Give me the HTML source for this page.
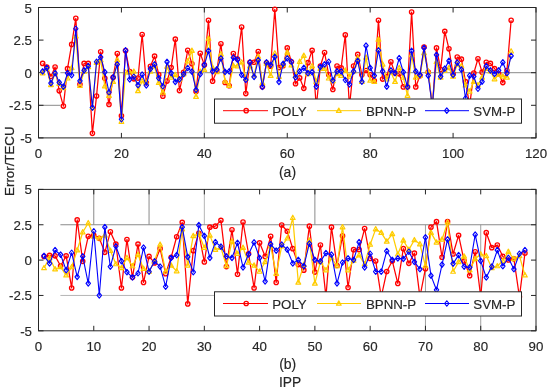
<!DOCTYPE html>
<html><head><meta charset="utf-8"><title>Error/TECU</title>
<style>html,body{margin:0;padding:0;background:#fff;}svg{display:block;}</style>
</head><body>
<svg width="550" height="391" viewBox="0 0 550 391" font-family="'Liberation Sans', Arial, Helvetica, sans-serif">
<rect width="550" height="391" fill="#ffffff"/>
<line x1="60.4" y1="72.7" x2="536" y2="72.7" stroke="#8a8a8a" stroke-width="1" />
<line x1="38.5" y1="105.3" x2="60.4" y2="105.3" stroke="#8a8a8a" stroke-width="1" />
<line x1="204.33" y1="7.5" x2="204.33" y2="137.9" stroke="#bdbdbd" stroke-width="1" />
<rect x="38.5" y="7.5" width="497.5" height="130.4" fill="none" stroke="#262626" stroke-width="1"/>
<line x1="38.5" y1="137.9" x2="38.5" y2="132.9" stroke="#262626" stroke-width="1" />
<line x1="38.5" y1="7.5" x2="38.5" y2="12.5" stroke="#262626" stroke-width="1" />
<line x1="121.42" y1="137.9" x2="121.42" y2="132.9" stroke="#262626" stroke-width="1" />
<line x1="121.42" y1="7.5" x2="121.42" y2="12.5" stroke="#262626" stroke-width="1" />
<line x1="204.33" y1="137.9" x2="204.33" y2="132.9" stroke="#262626" stroke-width="1" />
<line x1="204.33" y1="7.5" x2="204.33" y2="12.5" stroke="#262626" stroke-width="1" />
<line x1="287.25" y1="137.9" x2="287.25" y2="132.9" stroke="#262626" stroke-width="1" />
<line x1="287.25" y1="7.5" x2="287.25" y2="12.5" stroke="#262626" stroke-width="1" />
<line x1="370.17" y1="137.9" x2="370.17" y2="132.9" stroke="#262626" stroke-width="1" />
<line x1="370.17" y1="7.5" x2="370.17" y2="12.5" stroke="#262626" stroke-width="1" />
<line x1="453.08" y1="137.9" x2="453.08" y2="132.9" stroke="#262626" stroke-width="1" />
<line x1="453.08" y1="7.5" x2="453.08" y2="12.5" stroke="#262626" stroke-width="1" />
<line x1="536" y1="137.9" x2="536" y2="132.9" stroke="#262626" stroke-width="1" />
<line x1="536" y1="7.5" x2="536" y2="12.5" stroke="#262626" stroke-width="1" />
<line x1="38.5" y1="137.9" x2="43.5" y2="137.9" stroke="#262626" stroke-width="1" />
<line x1="536" y1="137.9" x2="531" y2="137.9" stroke="#262626" stroke-width="1" />
<line x1="38.5" y1="105.3" x2="43.5" y2="105.3" stroke="#262626" stroke-width="1" />
<line x1="536" y1="105.3" x2="531" y2="105.3" stroke="#262626" stroke-width="1" />
<line x1="38.5" y1="72.7" x2="43.5" y2="72.7" stroke="#262626" stroke-width="1" />
<line x1="536" y1="72.7" x2="531" y2="72.7" stroke="#262626" stroke-width="1" />
<line x1="38.5" y1="40.1" x2="43.5" y2="40.1" stroke="#262626" stroke-width="1" />
<line x1="536" y1="40.1" x2="531" y2="40.1" stroke="#262626" stroke-width="1" />
<line x1="38.5" y1="7.5" x2="43.5" y2="7.5" stroke="#262626" stroke-width="1" />
<line x1="536" y1="7.5" x2="531" y2="7.5" stroke="#262626" stroke-width="1" />
<polyline points="42.65,63.44 46.79,66.96 50.94,76.48 55.08,66.96 59.23,90.83 63.38,106.08 67.52,68.66 71.67,44.4 75.81,18.32 79.96,84.31 84.1,63.44 88.25,63.44 92.4,133.34 96.54,96.04 100.69,51.84 104.83,78.31 108.98,104.39 113.12,77.39 117.27,53.53 121.42,115.86 125.56,50.66 129.71,71.53 133.85,78.83 138,78.05 142.15,34.49 146.29,82.74 150.44,66.31 154.58,56.14 158.73,74.66 162.88,96.17 167.02,81.05 171.17,67.61 175.31,39.19 179.46,90.56 183.6,72.31 187.75,50.27 191.9,63.7 196.04,91.48 200.19,53.27 204.33,64.88 208.48,20.28 212.62,81.18 216.77,70.74 220.92,43.75 225.06,82.48 229.21,85.74 233.35,53.53 237.5,59.01 241.65,27.06 245.79,93.56 249.94,62.27 254.08,62.27 258.23,51.58 262.38,86.78 266.52,62.92 270.67,66.18 274.81,9.33 278.96,67.61 283.1,65.79 287.25,47.92 291.4,61.75 295.54,83.78 299.69,77.92 303.83,88.35 307.98,62.66 312.12,50.4 316.27,106.6 320.42,66.05 324.56,52.49 328.71,74.79 332.85,89.52 337,66.05 341.15,67.88 345.29,34.88 349.44,106.6 353.58,66.05 357.73,54.44 361.88,74.79 366.02,70.48 370.17,74.79 374.31,80.92 378.46,20.28 382.6,79.09 386.75,76.48 390.9,61.75 395.04,73.09 399.19,73.87 403.33,86.91 407.48,86.91 411.62,12.06 415.77,86.91 419.92,75.7 424.06,47.01 428.21,72.18 432.35,106.6 436.5,47.92 440.65,69.57 444.79,31.36 448.94,48.84 453.08,73.87 457.23,57.05 461.38,59.14 465.52,81.7 469.67,105.3 473.81,73.09 477.96,58.75 482.1,72.18 486.25,62.27 490.4,63.44 494.54,68.66 498.69,73.87 502.83,82.61 506.98,70.48 511.12,20.28" fill="none" stroke="#ff0000" stroke-width="1.25" stroke-linejoin="round"/>
<circle cx="42.65" cy="63.44" r="2.15" fill="none" stroke="#ff0000" stroke-width="1.35"/>
<circle cx="46.79" cy="66.96" r="2.15" fill="none" stroke="#ff0000" stroke-width="1.35"/>
<circle cx="50.94" cy="76.48" r="2.15" fill="none" stroke="#ff0000" stroke-width="1.35"/>
<circle cx="55.08" cy="66.96" r="2.15" fill="none" stroke="#ff0000" stroke-width="1.35"/>
<circle cx="59.23" cy="90.83" r="2.15" fill="none" stroke="#ff0000" stroke-width="1.35"/>
<circle cx="63.38" cy="106.08" r="2.15" fill="none" stroke="#ff0000" stroke-width="1.35"/>
<circle cx="67.52" cy="68.66" r="2.15" fill="none" stroke="#ff0000" stroke-width="1.35"/>
<circle cx="71.67" cy="44.4" r="2.15" fill="none" stroke="#ff0000" stroke-width="1.35"/>
<circle cx="75.81" cy="18.32" r="2.15" fill="none" stroke="#ff0000" stroke-width="1.35"/>
<circle cx="79.96" cy="84.31" r="2.15" fill="none" stroke="#ff0000" stroke-width="1.35"/>
<circle cx="84.1" cy="63.44" r="2.15" fill="none" stroke="#ff0000" stroke-width="1.35"/>
<circle cx="88.25" cy="63.44" r="2.15" fill="none" stroke="#ff0000" stroke-width="1.35"/>
<circle cx="92.4" cy="133.34" r="2.15" fill="none" stroke="#ff0000" stroke-width="1.35"/>
<circle cx="96.54" cy="96.04" r="2.15" fill="none" stroke="#ff0000" stroke-width="1.35"/>
<circle cx="100.69" cy="51.84" r="2.15" fill="none" stroke="#ff0000" stroke-width="1.35"/>
<circle cx="104.83" cy="78.31" r="2.15" fill="none" stroke="#ff0000" stroke-width="1.35"/>
<circle cx="108.98" cy="104.39" r="2.15" fill="none" stroke="#ff0000" stroke-width="1.35"/>
<circle cx="113.12" cy="77.39" r="2.15" fill="none" stroke="#ff0000" stroke-width="1.35"/>
<circle cx="117.27" cy="53.53" r="2.15" fill="none" stroke="#ff0000" stroke-width="1.35"/>
<circle cx="121.42" cy="115.86" r="2.15" fill="none" stroke="#ff0000" stroke-width="1.35"/>
<circle cx="125.56" cy="50.66" r="2.15" fill="none" stroke="#ff0000" stroke-width="1.35"/>
<circle cx="129.71" cy="71.53" r="2.15" fill="none" stroke="#ff0000" stroke-width="1.35"/>
<circle cx="133.85" cy="78.83" r="2.15" fill="none" stroke="#ff0000" stroke-width="1.35"/>
<circle cx="138" cy="78.05" r="2.15" fill="none" stroke="#ff0000" stroke-width="1.35"/>
<circle cx="142.15" cy="34.49" r="2.15" fill="none" stroke="#ff0000" stroke-width="1.35"/>
<circle cx="146.29" cy="82.74" r="2.15" fill="none" stroke="#ff0000" stroke-width="1.35"/>
<circle cx="150.44" cy="66.31" r="2.15" fill="none" stroke="#ff0000" stroke-width="1.35"/>
<circle cx="154.58" cy="56.14" r="2.15" fill="none" stroke="#ff0000" stroke-width="1.35"/>
<circle cx="158.73" cy="74.66" r="2.15" fill="none" stroke="#ff0000" stroke-width="1.35"/>
<circle cx="162.88" cy="96.17" r="2.15" fill="none" stroke="#ff0000" stroke-width="1.35"/>
<circle cx="167.02" cy="81.05" r="2.15" fill="none" stroke="#ff0000" stroke-width="1.35"/>
<circle cx="171.17" cy="67.61" r="2.15" fill="none" stroke="#ff0000" stroke-width="1.35"/>
<circle cx="175.31" cy="39.19" r="2.15" fill="none" stroke="#ff0000" stroke-width="1.35"/>
<circle cx="179.46" cy="90.56" r="2.15" fill="none" stroke="#ff0000" stroke-width="1.35"/>
<circle cx="183.6" cy="72.31" r="2.15" fill="none" stroke="#ff0000" stroke-width="1.35"/>
<circle cx="187.75" cy="50.27" r="2.15" fill="none" stroke="#ff0000" stroke-width="1.35"/>
<circle cx="191.9" cy="63.7" r="2.15" fill="none" stroke="#ff0000" stroke-width="1.35"/>
<circle cx="196.04" cy="91.48" r="2.15" fill="none" stroke="#ff0000" stroke-width="1.35"/>
<circle cx="200.19" cy="53.27" r="2.15" fill="none" stroke="#ff0000" stroke-width="1.35"/>
<circle cx="204.33" cy="64.88" r="2.15" fill="none" stroke="#ff0000" stroke-width="1.35"/>
<circle cx="208.48" cy="20.28" r="2.15" fill="none" stroke="#ff0000" stroke-width="1.35"/>
<circle cx="212.62" cy="81.18" r="2.15" fill="none" stroke="#ff0000" stroke-width="1.35"/>
<circle cx="216.77" cy="70.74" r="2.15" fill="none" stroke="#ff0000" stroke-width="1.35"/>
<circle cx="220.92" cy="43.75" r="2.15" fill="none" stroke="#ff0000" stroke-width="1.35"/>
<circle cx="225.06" cy="82.48" r="2.15" fill="none" stroke="#ff0000" stroke-width="1.35"/>
<circle cx="229.21" cy="85.74" r="2.15" fill="none" stroke="#ff0000" stroke-width="1.35"/>
<circle cx="233.35" cy="53.53" r="2.15" fill="none" stroke="#ff0000" stroke-width="1.35"/>
<circle cx="237.5" cy="59.01" r="2.15" fill="none" stroke="#ff0000" stroke-width="1.35"/>
<circle cx="241.65" cy="27.06" r="2.15" fill="none" stroke="#ff0000" stroke-width="1.35"/>
<circle cx="245.79" cy="93.56" r="2.15" fill="none" stroke="#ff0000" stroke-width="1.35"/>
<circle cx="249.94" cy="62.27" r="2.15" fill="none" stroke="#ff0000" stroke-width="1.35"/>
<circle cx="254.08" cy="62.27" r="2.15" fill="none" stroke="#ff0000" stroke-width="1.35"/>
<circle cx="258.23" cy="51.58" r="2.15" fill="none" stroke="#ff0000" stroke-width="1.35"/>
<circle cx="262.38" cy="86.78" r="2.15" fill="none" stroke="#ff0000" stroke-width="1.35"/>
<circle cx="266.52" cy="62.92" r="2.15" fill="none" stroke="#ff0000" stroke-width="1.35"/>
<circle cx="270.67" cy="66.18" r="2.15" fill="none" stroke="#ff0000" stroke-width="1.35"/>
<circle cx="274.81" cy="9.33" r="2.15" fill="none" stroke="#ff0000" stroke-width="1.35"/>
<circle cx="278.96" cy="67.61" r="2.15" fill="none" stroke="#ff0000" stroke-width="1.35"/>
<circle cx="283.1" cy="65.79" r="2.15" fill="none" stroke="#ff0000" stroke-width="1.35"/>
<circle cx="287.25" cy="47.92" r="2.15" fill="none" stroke="#ff0000" stroke-width="1.35"/>
<circle cx="291.4" cy="61.75" r="2.15" fill="none" stroke="#ff0000" stroke-width="1.35"/>
<circle cx="295.54" cy="83.78" r="2.15" fill="none" stroke="#ff0000" stroke-width="1.35"/>
<circle cx="299.69" cy="77.92" r="2.15" fill="none" stroke="#ff0000" stroke-width="1.35"/>
<circle cx="303.83" cy="88.35" r="2.15" fill="none" stroke="#ff0000" stroke-width="1.35"/>
<circle cx="307.98" cy="62.66" r="2.15" fill="none" stroke="#ff0000" stroke-width="1.35"/>
<circle cx="312.12" cy="50.4" r="2.15" fill="none" stroke="#ff0000" stroke-width="1.35"/>
<circle cx="316.27" cy="106.6" r="2.15" fill="none" stroke="#ff0000" stroke-width="1.35"/>
<circle cx="320.42" cy="66.05" r="2.15" fill="none" stroke="#ff0000" stroke-width="1.35"/>
<circle cx="324.56" cy="52.49" r="2.15" fill="none" stroke="#ff0000" stroke-width="1.35"/>
<circle cx="328.71" cy="74.79" r="2.15" fill="none" stroke="#ff0000" stroke-width="1.35"/>
<circle cx="332.85" cy="89.52" r="2.15" fill="none" stroke="#ff0000" stroke-width="1.35"/>
<circle cx="337" cy="66.05" r="2.15" fill="none" stroke="#ff0000" stroke-width="1.35"/>
<circle cx="341.15" cy="67.88" r="2.15" fill="none" stroke="#ff0000" stroke-width="1.35"/>
<circle cx="345.29" cy="34.88" r="2.15" fill="none" stroke="#ff0000" stroke-width="1.35"/>
<circle cx="349.44" cy="106.6" r="2.15" fill="none" stroke="#ff0000" stroke-width="1.35"/>
<circle cx="353.58" cy="66.05" r="2.15" fill="none" stroke="#ff0000" stroke-width="1.35"/>
<circle cx="357.73" cy="54.44" r="2.15" fill="none" stroke="#ff0000" stroke-width="1.35"/>
<circle cx="361.88" cy="74.79" r="2.15" fill="none" stroke="#ff0000" stroke-width="1.35"/>
<circle cx="366.02" cy="70.48" r="2.15" fill="none" stroke="#ff0000" stroke-width="1.35"/>
<circle cx="370.17" cy="74.79" r="2.15" fill="none" stroke="#ff0000" stroke-width="1.35"/>
<circle cx="374.31" cy="80.92" r="2.15" fill="none" stroke="#ff0000" stroke-width="1.35"/>
<circle cx="378.46" cy="20.28" r="2.15" fill="none" stroke="#ff0000" stroke-width="1.35"/>
<circle cx="382.6" cy="79.09" r="2.15" fill="none" stroke="#ff0000" stroke-width="1.35"/>
<circle cx="386.75" cy="76.48" r="2.15" fill="none" stroke="#ff0000" stroke-width="1.35"/>
<circle cx="390.9" cy="61.75" r="2.15" fill="none" stroke="#ff0000" stroke-width="1.35"/>
<circle cx="395.04" cy="73.09" r="2.15" fill="none" stroke="#ff0000" stroke-width="1.35"/>
<circle cx="399.19" cy="73.87" r="2.15" fill="none" stroke="#ff0000" stroke-width="1.35"/>
<circle cx="403.33" cy="86.91" r="2.15" fill="none" stroke="#ff0000" stroke-width="1.35"/>
<circle cx="407.48" cy="86.91" r="2.15" fill="none" stroke="#ff0000" stroke-width="1.35"/>
<circle cx="411.62" cy="12.06" r="2.15" fill="none" stroke="#ff0000" stroke-width="1.35"/>
<circle cx="415.77" cy="86.91" r="2.15" fill="none" stroke="#ff0000" stroke-width="1.35"/>
<circle cx="419.92" cy="75.7" r="2.15" fill="none" stroke="#ff0000" stroke-width="1.35"/>
<circle cx="424.06" cy="47.01" r="2.15" fill="none" stroke="#ff0000" stroke-width="1.35"/>
<circle cx="428.21" cy="72.18" r="2.15" fill="none" stroke="#ff0000" stroke-width="1.35"/>
<circle cx="432.35" cy="106.6" r="2.15" fill="none" stroke="#ff0000" stroke-width="1.35"/>
<circle cx="436.5" cy="47.92" r="2.15" fill="none" stroke="#ff0000" stroke-width="1.35"/>
<circle cx="440.65" cy="69.57" r="2.15" fill="none" stroke="#ff0000" stroke-width="1.35"/>
<circle cx="444.79" cy="31.36" r="2.15" fill="none" stroke="#ff0000" stroke-width="1.35"/>
<circle cx="448.94" cy="48.84" r="2.15" fill="none" stroke="#ff0000" stroke-width="1.35"/>
<circle cx="453.08" cy="73.87" r="2.15" fill="none" stroke="#ff0000" stroke-width="1.35"/>
<circle cx="457.23" cy="57.05" r="2.15" fill="none" stroke="#ff0000" stroke-width="1.35"/>
<circle cx="461.38" cy="59.14" r="2.15" fill="none" stroke="#ff0000" stroke-width="1.35"/>
<circle cx="465.52" cy="81.7" r="2.15" fill="none" stroke="#ff0000" stroke-width="1.35"/>
<circle cx="469.67" cy="105.3" r="2.15" fill="none" stroke="#ff0000" stroke-width="1.35"/>
<circle cx="473.81" cy="73.09" r="2.15" fill="none" stroke="#ff0000" stroke-width="1.35"/>
<circle cx="477.96" cy="58.75" r="2.15" fill="none" stroke="#ff0000" stroke-width="1.35"/>
<circle cx="482.1" cy="72.18" r="2.15" fill="none" stroke="#ff0000" stroke-width="1.35"/>
<circle cx="486.25" cy="62.27" r="2.15" fill="none" stroke="#ff0000" stroke-width="1.35"/>
<circle cx="490.4" cy="63.44" r="2.15" fill="none" stroke="#ff0000" stroke-width="1.35"/>
<circle cx="494.54" cy="68.66" r="2.15" fill="none" stroke="#ff0000" stroke-width="1.35"/>
<circle cx="498.69" cy="73.87" r="2.15" fill="none" stroke="#ff0000" stroke-width="1.35"/>
<circle cx="502.83" cy="82.61" r="2.15" fill="none" stroke="#ff0000" stroke-width="1.35"/>
<circle cx="506.98" cy="70.48" r="2.15" fill="none" stroke="#ff0000" stroke-width="1.35"/>
<circle cx="511.12" cy="20.28" r="2.15" fill="none" stroke="#ff0000" stroke-width="1.35"/>
<polyline points="42.65,73.09 46.79,68.66 50.94,84.83 55.08,73.09 59.23,83.65 63.38,87.96 67.52,78.31 71.67,67.88 75.81,36.19 79.96,85.61 84.1,71.4 88.25,66.96 92.4,107.91 96.54,62.66 100.69,60.05 104.83,86.13 108.98,95.65 113.12,81.7 117.27,60.05 121.42,121.6 125.56,72.31 129.71,72.31 133.85,71.53 138,90.96 142.15,81.05 146.29,82.74 150.44,71.53 154.58,66.31 158.73,82.74 162.88,92.39 167.02,66.57 171.17,77.52 175.31,74.92 179.46,79.35 183.6,74.13 187.75,61.09 191.9,50.66 196.04,96.69 200.19,71.53 204.33,69.7 208.48,38.54 212.62,67.74 216.77,72.05 220.92,54.18 225.06,81.31 229.21,85.74 233.35,65.53 237.5,66.18 241.65,62.27 245.79,78.57 249.94,66.18 254.08,75.31 258.23,56.53 262.38,83.13 266.52,63.57 270.67,75.7 274.81,53.27 278.96,76.61 283.1,64.88 287.25,52.49 291.4,65.27 295.54,75.7 299.69,61.75 303.83,55.62 307.98,73.87 312.12,66.05 316.27,81.7 320.42,68.66 324.56,68.66 328.71,78.31 332.85,80.92 337,73.87 341.15,75.7 345.29,70.48 349.44,76.48 353.58,71.27 357.73,58.23 361.88,81.7 366.02,57.44 370.17,80.52 374.31,81.7 378.46,39.45 382.6,64.35 386.75,79.09 390.9,72.18 395.04,81.7 399.19,67.88 403.33,77.39 407.48,95.65 411.62,54.84 415.77,77.39 419.92,75.7 424.06,53.01 428.21,71.27 432.35,106.6 436.5,61.75 440.65,77.39 444.79,70.48 448.94,67.88 453.08,76.48 457.23,64.35 461.38,66.05 465.52,85.22 469.67,91.35 473.81,81.7 477.96,85.22 482.1,77.39 486.25,68.66 490.4,71.27 494.54,79.09 498.69,74.79 502.83,76.48 506.98,77.39 511.12,51.31" fill="none" stroke="#ffcc00" stroke-width="1.25" stroke-linejoin="round"/>
<polygon points="42.65,70.49 45,74.79 40.3,74.79" fill="none" stroke="#ffcc00" stroke-width="1.2" stroke-linejoin="round"/>
<polygon points="46.79,66.06 49.14,70.36 44.44,70.36" fill="none" stroke="#ffcc00" stroke-width="1.2" stroke-linejoin="round"/>
<polygon points="50.94,82.23 53.29,86.53 48.59,86.53" fill="none" stroke="#ffcc00" stroke-width="1.2" stroke-linejoin="round"/>
<polygon points="55.08,70.49 57.43,74.79 52.73,74.79" fill="none" stroke="#ffcc00" stroke-width="1.2" stroke-linejoin="round"/>
<polygon points="59.23,81.05 61.58,85.35 56.88,85.35" fill="none" stroke="#ffcc00" stroke-width="1.2" stroke-linejoin="round"/>
<polygon points="63.38,85.36 65.72,89.66 61.02,89.66" fill="none" stroke="#ffcc00" stroke-width="1.2" stroke-linejoin="round"/>
<polygon points="67.52,75.71 69.87,80.01 65.17,80.01" fill="none" stroke="#ffcc00" stroke-width="1.2" stroke-linejoin="round"/>
<polygon points="71.67,65.28 74.02,69.58 69.32,69.58" fill="none" stroke="#ffcc00" stroke-width="1.2" stroke-linejoin="round"/>
<polygon points="75.81,33.59 78.16,37.89 73.46,37.89" fill="none" stroke="#ffcc00" stroke-width="1.2" stroke-linejoin="round"/>
<polygon points="79.96,83.01 82.31,87.31 77.61,87.31" fill="none" stroke="#ffcc00" stroke-width="1.2" stroke-linejoin="round"/>
<polygon points="84.1,68.8 86.45,73.1 81.75,73.1" fill="none" stroke="#ffcc00" stroke-width="1.2" stroke-linejoin="round"/>
<polygon points="88.25,64.36 90.6,68.66 85.9,68.66" fill="none" stroke="#ffcc00" stroke-width="1.2" stroke-linejoin="round"/>
<polygon points="92.4,105.31 94.75,109.61 90.05,109.61" fill="none" stroke="#ffcc00" stroke-width="1.2" stroke-linejoin="round"/>
<polygon points="96.54,60.06 98.89,64.36 94.19,64.36" fill="none" stroke="#ffcc00" stroke-width="1.2" stroke-linejoin="round"/>
<polygon points="100.69,57.45 103.04,61.75 98.34,61.75" fill="none" stroke="#ffcc00" stroke-width="1.2" stroke-linejoin="round"/>
<polygon points="104.83,83.53 107.18,87.83 102.48,87.83" fill="none" stroke="#ffcc00" stroke-width="1.2" stroke-linejoin="round"/>
<polygon points="108.98,93.05 111.33,97.35 106.63,97.35" fill="none" stroke="#ffcc00" stroke-width="1.2" stroke-linejoin="round"/>
<polygon points="113.12,79.1 115.47,83.4 110.78,83.4" fill="none" stroke="#ffcc00" stroke-width="1.2" stroke-linejoin="round"/>
<polygon points="117.27,57.45 119.62,61.75 114.92,61.75" fill="none" stroke="#ffcc00" stroke-width="1.2" stroke-linejoin="round"/>
<polygon points="121.42,119 123.77,123.3 119.07,123.3" fill="none" stroke="#ffcc00" stroke-width="1.2" stroke-linejoin="round"/>
<polygon points="125.56,69.71 127.91,74.01 123.21,74.01" fill="none" stroke="#ffcc00" stroke-width="1.2" stroke-linejoin="round"/>
<polygon points="129.71,69.71 132.06,74.01 127.36,74.01" fill="none" stroke="#ffcc00" stroke-width="1.2" stroke-linejoin="round"/>
<polygon points="133.85,68.93 136.2,73.23 131.5,73.23" fill="none" stroke="#ffcc00" stroke-width="1.2" stroke-linejoin="round"/>
<polygon points="138,88.36 140.35,92.66 135.65,92.66" fill="none" stroke="#ffcc00" stroke-width="1.2" stroke-linejoin="round"/>
<polygon points="142.15,78.45 144.5,82.75 139.8,82.75" fill="none" stroke="#ffcc00" stroke-width="1.2" stroke-linejoin="round"/>
<polygon points="146.29,80.14 148.64,84.44 143.94,84.44" fill="none" stroke="#ffcc00" stroke-width="1.2" stroke-linejoin="round"/>
<polygon points="150.44,68.93 152.79,73.23 148.09,73.23" fill="none" stroke="#ffcc00" stroke-width="1.2" stroke-linejoin="round"/>
<polygon points="154.58,63.71 156.93,68.01 152.23,68.01" fill="none" stroke="#ffcc00" stroke-width="1.2" stroke-linejoin="round"/>
<polygon points="158.73,80.14 161.08,84.44 156.38,84.44" fill="none" stroke="#ffcc00" stroke-width="1.2" stroke-linejoin="round"/>
<polygon points="162.88,89.79 165.22,94.09 160.53,94.09" fill="none" stroke="#ffcc00" stroke-width="1.2" stroke-linejoin="round"/>
<polygon points="167.02,63.97 169.37,68.27 164.67,68.27" fill="none" stroke="#ffcc00" stroke-width="1.2" stroke-linejoin="round"/>
<polygon points="171.17,74.92 173.52,79.22 168.82,79.22" fill="none" stroke="#ffcc00" stroke-width="1.2" stroke-linejoin="round"/>
<polygon points="175.31,72.32 177.66,76.62 172.96,76.62" fill="none" stroke="#ffcc00" stroke-width="1.2" stroke-linejoin="round"/>
<polygon points="179.46,76.75 181.81,81.05 177.11,81.05" fill="none" stroke="#ffcc00" stroke-width="1.2" stroke-linejoin="round"/>
<polygon points="183.6,71.53 185.95,75.83 181.25,75.83" fill="none" stroke="#ffcc00" stroke-width="1.2" stroke-linejoin="round"/>
<polygon points="187.75,58.49 190.1,62.79 185.4,62.79" fill="none" stroke="#ffcc00" stroke-width="1.2" stroke-linejoin="round"/>
<polygon points="191.9,48.06 194.25,52.36 189.55,52.36" fill="none" stroke="#ffcc00" stroke-width="1.2" stroke-linejoin="round"/>
<polygon points="196.04,94.09 198.39,98.39 193.69,98.39" fill="none" stroke="#ffcc00" stroke-width="1.2" stroke-linejoin="round"/>
<polygon points="200.19,68.93 202.54,73.23 197.84,73.23" fill="none" stroke="#ffcc00" stroke-width="1.2" stroke-linejoin="round"/>
<polygon points="204.33,67.1 206.68,71.4 201.98,71.4" fill="none" stroke="#ffcc00" stroke-width="1.2" stroke-linejoin="round"/>
<polygon points="208.48,35.94 210.83,40.24 206.13,40.24" fill="none" stroke="#ffcc00" stroke-width="1.2" stroke-linejoin="round"/>
<polygon points="212.62,65.14 214.97,69.44 210.28,69.44" fill="none" stroke="#ffcc00" stroke-width="1.2" stroke-linejoin="round"/>
<polygon points="216.77,69.45 219.12,73.75 214.42,73.75" fill="none" stroke="#ffcc00" stroke-width="1.2" stroke-linejoin="round"/>
<polygon points="220.92,51.58 223.27,55.88 218.57,55.88" fill="none" stroke="#ffcc00" stroke-width="1.2" stroke-linejoin="round"/>
<polygon points="225.06,78.71 227.41,83.01 222.71,83.01" fill="none" stroke="#ffcc00" stroke-width="1.2" stroke-linejoin="round"/>
<polygon points="229.21,83.14 231.56,87.44 226.86,87.44" fill="none" stroke="#ffcc00" stroke-width="1.2" stroke-linejoin="round"/>
<polygon points="233.35,62.93 235.7,67.23 231,67.23" fill="none" stroke="#ffcc00" stroke-width="1.2" stroke-linejoin="round"/>
<polygon points="237.5,63.58 239.85,67.88 235.15,67.88" fill="none" stroke="#ffcc00" stroke-width="1.2" stroke-linejoin="round"/>
<polygon points="241.65,59.67 244,63.97 239.3,63.97" fill="none" stroke="#ffcc00" stroke-width="1.2" stroke-linejoin="round"/>
<polygon points="245.79,75.97 248.14,80.27 243.44,80.27" fill="none" stroke="#ffcc00" stroke-width="1.2" stroke-linejoin="round"/>
<polygon points="249.94,63.58 252.29,67.88 247.59,67.88" fill="none" stroke="#ffcc00" stroke-width="1.2" stroke-linejoin="round"/>
<polygon points="254.08,72.71 256.43,77.01 251.73,77.01" fill="none" stroke="#ffcc00" stroke-width="1.2" stroke-linejoin="round"/>
<polygon points="258.23,53.93 260.58,58.23 255.88,58.23" fill="none" stroke="#ffcc00" stroke-width="1.2" stroke-linejoin="round"/>
<polygon points="262.38,80.53 264.73,84.83 260.02,84.83" fill="none" stroke="#ffcc00" stroke-width="1.2" stroke-linejoin="round"/>
<polygon points="266.52,60.97 268.87,65.27 264.17,65.27" fill="none" stroke="#ffcc00" stroke-width="1.2" stroke-linejoin="round"/>
<polygon points="270.67,73.1 273.02,77.4 268.32,77.4" fill="none" stroke="#ffcc00" stroke-width="1.2" stroke-linejoin="round"/>
<polygon points="274.81,50.67 277.16,54.97 272.46,54.97" fill="none" stroke="#ffcc00" stroke-width="1.2" stroke-linejoin="round"/>
<polygon points="278.96,74.01 281.31,78.31 276.61,78.31" fill="none" stroke="#ffcc00" stroke-width="1.2" stroke-linejoin="round"/>
<polygon points="283.1,62.28 285.45,66.58 280.75,66.58" fill="none" stroke="#ffcc00" stroke-width="1.2" stroke-linejoin="round"/>
<polygon points="287.25,49.89 289.6,54.19 284.9,54.19" fill="none" stroke="#ffcc00" stroke-width="1.2" stroke-linejoin="round"/>
<polygon points="291.4,62.67 293.75,66.97 289.05,66.97" fill="none" stroke="#ffcc00" stroke-width="1.2" stroke-linejoin="round"/>
<polygon points="295.54,73.1 297.89,77.4 293.19,77.4" fill="none" stroke="#ffcc00" stroke-width="1.2" stroke-linejoin="round"/>
<polygon points="299.69,59.15 302.04,63.45 297.34,63.45" fill="none" stroke="#ffcc00" stroke-width="1.2" stroke-linejoin="round"/>
<polygon points="303.83,53.02 306.18,57.32 301.48,57.32" fill="none" stroke="#ffcc00" stroke-width="1.2" stroke-linejoin="round"/>
<polygon points="307.98,71.27 310.33,75.57 305.63,75.57" fill="none" stroke="#ffcc00" stroke-width="1.2" stroke-linejoin="round"/>
<polygon points="312.12,63.45 314.48,67.75 309.77,67.75" fill="none" stroke="#ffcc00" stroke-width="1.2" stroke-linejoin="round"/>
<polygon points="316.27,79.1 318.62,83.4 313.92,83.4" fill="none" stroke="#ffcc00" stroke-width="1.2" stroke-linejoin="round"/>
<polygon points="320.42,66.06 322.77,70.36 318.07,70.36" fill="none" stroke="#ffcc00" stroke-width="1.2" stroke-linejoin="round"/>
<polygon points="324.56,66.06 326.91,70.36 322.21,70.36" fill="none" stroke="#ffcc00" stroke-width="1.2" stroke-linejoin="round"/>
<polygon points="328.71,75.71 331.06,80.01 326.36,80.01" fill="none" stroke="#ffcc00" stroke-width="1.2" stroke-linejoin="round"/>
<polygon points="332.85,78.32 335.2,82.62 330.5,82.62" fill="none" stroke="#ffcc00" stroke-width="1.2" stroke-linejoin="round"/>
<polygon points="337,71.27 339.35,75.57 334.65,75.57" fill="none" stroke="#ffcc00" stroke-width="1.2" stroke-linejoin="round"/>
<polygon points="341.15,73.1 343.5,77.4 338.8,77.4" fill="none" stroke="#ffcc00" stroke-width="1.2" stroke-linejoin="round"/>
<polygon points="345.29,67.88 347.64,72.18 342.94,72.18" fill="none" stroke="#ffcc00" stroke-width="1.2" stroke-linejoin="round"/>
<polygon points="349.44,73.88 351.79,78.18 347.09,78.18" fill="none" stroke="#ffcc00" stroke-width="1.2" stroke-linejoin="round"/>
<polygon points="353.58,68.67 355.93,72.97 351.23,72.97" fill="none" stroke="#ffcc00" stroke-width="1.2" stroke-linejoin="round"/>
<polygon points="357.73,55.63 360.08,59.93 355.38,59.93" fill="none" stroke="#ffcc00" stroke-width="1.2" stroke-linejoin="round"/>
<polygon points="361.88,79.1 364.23,83.4 359.52,83.4" fill="none" stroke="#ffcc00" stroke-width="1.2" stroke-linejoin="round"/>
<polygon points="366.02,54.84 368.37,59.14 363.67,59.14" fill="none" stroke="#ffcc00" stroke-width="1.2" stroke-linejoin="round"/>
<polygon points="370.17,77.92 372.52,82.22 367.82,82.22" fill="none" stroke="#ffcc00" stroke-width="1.2" stroke-linejoin="round"/>
<polygon points="374.31,79.1 376.66,83.4 371.96,83.4" fill="none" stroke="#ffcc00" stroke-width="1.2" stroke-linejoin="round"/>
<polygon points="378.46,36.85 380.81,41.15 376.11,41.15" fill="none" stroke="#ffcc00" stroke-width="1.2" stroke-linejoin="round"/>
<polygon points="382.6,61.75 384.95,66.05 380.25,66.05" fill="none" stroke="#ffcc00" stroke-width="1.2" stroke-linejoin="round"/>
<polygon points="386.75,76.49 389.1,80.79 384.4,80.79" fill="none" stroke="#ffcc00" stroke-width="1.2" stroke-linejoin="round"/>
<polygon points="390.9,69.58 393.25,73.88 388.55,73.88" fill="none" stroke="#ffcc00" stroke-width="1.2" stroke-linejoin="round"/>
<polygon points="395.04,79.1 397.39,83.4 392.69,83.4" fill="none" stroke="#ffcc00" stroke-width="1.2" stroke-linejoin="round"/>
<polygon points="399.19,65.28 401.54,69.58 396.84,69.58" fill="none" stroke="#ffcc00" stroke-width="1.2" stroke-linejoin="round"/>
<polygon points="403.33,74.79 405.68,79.09 400.98,79.09" fill="none" stroke="#ffcc00" stroke-width="1.2" stroke-linejoin="round"/>
<polygon points="407.48,93.05 409.83,97.35 405.13,97.35" fill="none" stroke="#ffcc00" stroke-width="1.2" stroke-linejoin="round"/>
<polygon points="411.62,52.24 413.98,56.54 409.27,56.54" fill="none" stroke="#ffcc00" stroke-width="1.2" stroke-linejoin="round"/>
<polygon points="415.77,74.79 418.12,79.09 413.42,79.09" fill="none" stroke="#ffcc00" stroke-width="1.2" stroke-linejoin="round"/>
<polygon points="419.92,73.1 422.27,77.4 417.57,77.4" fill="none" stroke="#ffcc00" stroke-width="1.2" stroke-linejoin="round"/>
<polygon points="424.06,50.41 426.41,54.71 421.71,54.71" fill="none" stroke="#ffcc00" stroke-width="1.2" stroke-linejoin="round"/>
<polygon points="428.21,68.67 430.56,72.97 425.86,72.97" fill="none" stroke="#ffcc00" stroke-width="1.2" stroke-linejoin="round"/>
<polygon points="432.35,104 434.7,108.3 430,108.3" fill="none" stroke="#ffcc00" stroke-width="1.2" stroke-linejoin="round"/>
<polygon points="436.5,59.15 438.85,63.45 434.15,63.45" fill="none" stroke="#ffcc00" stroke-width="1.2" stroke-linejoin="round"/>
<polygon points="440.65,74.79 443,79.09 438.3,79.09" fill="none" stroke="#ffcc00" stroke-width="1.2" stroke-linejoin="round"/>
<polygon points="444.79,67.88 447.14,72.18 442.44,72.18" fill="none" stroke="#ffcc00" stroke-width="1.2" stroke-linejoin="round"/>
<polygon points="448.94,65.28 451.29,69.58 446.59,69.58" fill="none" stroke="#ffcc00" stroke-width="1.2" stroke-linejoin="round"/>
<polygon points="453.08,73.88 455.43,78.18 450.73,78.18" fill="none" stroke="#ffcc00" stroke-width="1.2" stroke-linejoin="round"/>
<polygon points="457.23,61.75 459.58,66.05 454.88,66.05" fill="none" stroke="#ffcc00" stroke-width="1.2" stroke-linejoin="round"/>
<polygon points="461.38,63.45 463.73,67.75 459.02,67.75" fill="none" stroke="#ffcc00" stroke-width="1.2" stroke-linejoin="round"/>
<polygon points="465.52,82.62 467.87,86.92 463.17,86.92" fill="none" stroke="#ffcc00" stroke-width="1.2" stroke-linejoin="round"/>
<polygon points="469.67,88.75 472.02,93.05 467.32,93.05" fill="none" stroke="#ffcc00" stroke-width="1.2" stroke-linejoin="round"/>
<polygon points="473.81,79.1 476.16,83.4 471.46,83.4" fill="none" stroke="#ffcc00" stroke-width="1.2" stroke-linejoin="round"/>
<polygon points="477.96,82.62 480.31,86.92 475.61,86.92" fill="none" stroke="#ffcc00" stroke-width="1.2" stroke-linejoin="round"/>
<polygon points="482.1,74.79 484.45,79.09 479.75,79.09" fill="none" stroke="#ffcc00" stroke-width="1.2" stroke-linejoin="round"/>
<polygon points="486.25,66.06 488.6,70.36 483.9,70.36" fill="none" stroke="#ffcc00" stroke-width="1.2" stroke-linejoin="round"/>
<polygon points="490.4,68.67 492.75,72.97 488.05,72.97" fill="none" stroke="#ffcc00" stroke-width="1.2" stroke-linejoin="round"/>
<polygon points="494.54,76.49 496.89,80.79 492.19,80.79" fill="none" stroke="#ffcc00" stroke-width="1.2" stroke-linejoin="round"/>
<polygon points="498.69,72.19 501.04,76.49 496.34,76.49" fill="none" stroke="#ffcc00" stroke-width="1.2" stroke-linejoin="round"/>
<polygon points="502.83,73.88 505.18,78.18 500.48,78.18" fill="none" stroke="#ffcc00" stroke-width="1.2" stroke-linejoin="round"/>
<polygon points="506.98,74.79 509.33,79.09 504.63,79.09" fill="none" stroke="#ffcc00" stroke-width="1.2" stroke-linejoin="round"/>
<polygon points="511.12,48.71 513.48,53.01 508.77,53.01" fill="none" stroke="#ffcc00" stroke-width="1.2" stroke-linejoin="round"/>
<polyline points="42.65,71.4 46.79,67.88 50.94,83.13 55.08,73.09 59.23,82.35 63.38,86.65 67.52,73.09 71.67,75.18 75.81,28.76 79.96,80.92 84.1,70.48 88.25,66.18 92.4,107.52 96.54,61.75 100.69,57.05 104.83,72.18 108.98,92.26 113.12,77.39 117.27,64.35 121.42,119.25 125.56,50.27 129.71,79.35 133.85,76.74 138,85.09 142.15,74.66 146.29,85.35 150.44,68.92 154.58,64.48 158.73,78.05 162.88,86.26 167.02,61.88 171.17,73.22 175.31,81.96 179.46,79.35 183.6,74.13 187.75,68.01 191.9,71.53 196.04,89.78 200.19,74.13 204.33,64.88 208.48,50.79 212.62,71.27 216.77,69.44 220.92,58.36 225.06,71.92 229.21,71.4 233.35,57.7 237.5,59.66 241.65,74.92 245.79,79.87 249.94,62.27 254.08,76.87 258.23,60.18 262.38,86.78 266.52,62.27 270.67,64.88 274.81,56.79 278.96,81.96 283.1,63.96 287.25,58.36 291.4,61.75 295.54,77.39 299.69,71.27 303.83,67.88 307.98,73.09 312.12,72.18 316.27,86.65 320.42,66.96 324.56,64.35 328.71,61.75 332.85,80.39 337,71.27 341.15,71.27 345.29,80 349.44,84.31 353.58,71.27 357.73,60.83 361.88,81.7 366.02,45.71 370.17,67.88 374.31,75.7 378.46,50.27 382.6,71.27 386.75,86.65 390.9,70.48 395.04,73.09 399.19,58.23 403.33,72.18 407.48,86.91 411.62,50.79 415.77,71.27 419.92,74.79 424.06,47.79 428.21,75.7 432.35,106.6 436.5,54.84 440.65,76.48 444.79,68.66 448.94,60.83 453.08,74.79 457.23,62.66 461.38,69.57 465.52,98.26 469.67,75.7 473.81,76.48 477.96,88.74 482.1,81.7 486.25,66.05 490.4,70.48 494.54,73.87 498.69,70.48 502.83,62.27 506.98,73.09 511.12,55.88" fill="none" stroke="#0000ff" stroke-width="1.1" stroke-linejoin="round"/>
<polygon points="42.65,68.65 44.85,71.4 42.65,74.15 40.45,71.4" fill="none" stroke="#0000ff" stroke-width="1.15" stroke-linejoin="round"/>
<polygon points="46.79,65.13 48.99,67.88 46.79,70.63 44.59,67.88" fill="none" stroke="#0000ff" stroke-width="1.15" stroke-linejoin="round"/>
<polygon points="50.94,80.38 53.14,83.13 50.94,85.88 48.74,83.13" fill="none" stroke="#0000ff" stroke-width="1.15" stroke-linejoin="round"/>
<polygon points="55.08,70.34 57.28,73.09 55.08,75.84 52.88,73.09" fill="none" stroke="#0000ff" stroke-width="1.15" stroke-linejoin="round"/>
<polygon points="59.23,79.6 61.43,82.35 59.23,85.1 57.03,82.35" fill="none" stroke="#0000ff" stroke-width="1.15" stroke-linejoin="round"/>
<polygon points="63.38,83.9 65.58,86.65 63.38,89.4 61.17,86.65" fill="none" stroke="#0000ff" stroke-width="1.15" stroke-linejoin="round"/>
<polygon points="67.52,70.34 69.72,73.09 67.52,75.84 65.32,73.09" fill="none" stroke="#0000ff" stroke-width="1.15" stroke-linejoin="round"/>
<polygon points="71.67,72.43 73.87,75.18 71.67,77.93 69.47,75.18" fill="none" stroke="#0000ff" stroke-width="1.15" stroke-linejoin="round"/>
<polygon points="75.81,26.01 78.01,28.76 75.81,31.51 73.61,28.76" fill="none" stroke="#0000ff" stroke-width="1.15" stroke-linejoin="round"/>
<polygon points="79.96,78.17 82.16,80.92 79.96,83.67 77.76,80.92" fill="none" stroke="#0000ff" stroke-width="1.15" stroke-linejoin="round"/>
<polygon points="84.1,67.73 86.3,70.48 84.1,73.23 81.9,70.48" fill="none" stroke="#0000ff" stroke-width="1.15" stroke-linejoin="round"/>
<polygon points="88.25,63.43 90.45,66.18 88.25,68.93 86.05,66.18" fill="none" stroke="#0000ff" stroke-width="1.15" stroke-linejoin="round"/>
<polygon points="92.4,104.77 94.6,107.52 92.4,110.27 90.2,107.52" fill="none" stroke="#0000ff" stroke-width="1.15" stroke-linejoin="round"/>
<polygon points="96.54,59 98.74,61.75 96.54,64.5 94.34,61.75" fill="none" stroke="#0000ff" stroke-width="1.15" stroke-linejoin="round"/>
<polygon points="100.69,54.3 102.89,57.05 100.69,59.8 98.49,57.05" fill="none" stroke="#0000ff" stroke-width="1.15" stroke-linejoin="round"/>
<polygon points="104.83,69.43 107.03,72.18 104.83,74.93 102.63,72.18" fill="none" stroke="#0000ff" stroke-width="1.15" stroke-linejoin="round"/>
<polygon points="108.98,89.51 111.18,92.26 108.98,95.01 106.78,92.26" fill="none" stroke="#0000ff" stroke-width="1.15" stroke-linejoin="round"/>
<polygon points="113.12,74.64 115.33,77.39 113.12,80.14 110.92,77.39" fill="none" stroke="#0000ff" stroke-width="1.15" stroke-linejoin="round"/>
<polygon points="117.27,61.6 119.47,64.35 117.27,67.1 115.07,64.35" fill="none" stroke="#0000ff" stroke-width="1.15" stroke-linejoin="round"/>
<polygon points="121.42,116.5 123.62,119.25 121.42,122 119.22,119.25" fill="none" stroke="#0000ff" stroke-width="1.15" stroke-linejoin="round"/>
<polygon points="125.56,47.52 127.76,50.27 125.56,53.02 123.36,50.27" fill="none" stroke="#0000ff" stroke-width="1.15" stroke-linejoin="round"/>
<polygon points="129.71,76.6 131.91,79.35 129.71,82.1 127.51,79.35" fill="none" stroke="#0000ff" stroke-width="1.15" stroke-linejoin="round"/>
<polygon points="133.85,73.99 136.05,76.74 133.85,79.49 131.65,76.74" fill="none" stroke="#0000ff" stroke-width="1.15" stroke-linejoin="round"/>
<polygon points="138,82.34 140.2,85.09 138,87.84 135.8,85.09" fill="none" stroke="#0000ff" stroke-width="1.15" stroke-linejoin="round"/>
<polygon points="142.15,71.91 144.35,74.66 142.15,77.41 139.95,74.66" fill="none" stroke="#0000ff" stroke-width="1.15" stroke-linejoin="round"/>
<polygon points="146.29,82.6 148.49,85.35 146.29,88.1 144.09,85.35" fill="none" stroke="#0000ff" stroke-width="1.15" stroke-linejoin="round"/>
<polygon points="150.44,66.17 152.64,68.92 150.44,71.67 148.24,68.92" fill="none" stroke="#0000ff" stroke-width="1.15" stroke-linejoin="round"/>
<polygon points="154.58,61.73 156.78,64.48 154.58,67.23 152.38,64.48" fill="none" stroke="#0000ff" stroke-width="1.15" stroke-linejoin="round"/>
<polygon points="158.73,75.3 160.93,78.05 158.73,80.8 156.53,78.05" fill="none" stroke="#0000ff" stroke-width="1.15" stroke-linejoin="round"/>
<polygon points="162.88,83.51 165.07,86.26 162.88,89.01 160.68,86.26" fill="none" stroke="#0000ff" stroke-width="1.15" stroke-linejoin="round"/>
<polygon points="167.02,59.13 169.22,61.88 167.02,64.63 164.82,61.88" fill="none" stroke="#0000ff" stroke-width="1.15" stroke-linejoin="round"/>
<polygon points="171.17,70.47 173.37,73.22 171.17,75.97 168.97,73.22" fill="none" stroke="#0000ff" stroke-width="1.15" stroke-linejoin="round"/>
<polygon points="175.31,79.21 177.51,81.96 175.31,84.71 173.11,81.96" fill="none" stroke="#0000ff" stroke-width="1.15" stroke-linejoin="round"/>
<polygon points="179.46,76.6 181.66,79.35 179.46,82.1 177.26,79.35" fill="none" stroke="#0000ff" stroke-width="1.15" stroke-linejoin="round"/>
<polygon points="183.6,71.38 185.8,74.13 183.6,76.88 181.4,74.13" fill="none" stroke="#0000ff" stroke-width="1.15" stroke-linejoin="round"/>
<polygon points="187.75,65.26 189.95,68.01 187.75,70.76 185.55,68.01" fill="none" stroke="#0000ff" stroke-width="1.15" stroke-linejoin="round"/>
<polygon points="191.9,68.78 194.1,71.53 191.9,74.28 189.7,71.53" fill="none" stroke="#0000ff" stroke-width="1.15" stroke-linejoin="round"/>
<polygon points="196.04,87.03 198.24,89.78 196.04,92.53 193.84,89.78" fill="none" stroke="#0000ff" stroke-width="1.15" stroke-linejoin="round"/>
<polygon points="200.19,71.38 202.39,74.13 200.19,76.88 197.99,74.13" fill="none" stroke="#0000ff" stroke-width="1.15" stroke-linejoin="round"/>
<polygon points="204.33,62.13 206.53,64.88 204.33,67.63 202.13,64.88" fill="none" stroke="#0000ff" stroke-width="1.15" stroke-linejoin="round"/>
<polygon points="208.48,48.04 210.68,50.79 208.48,53.54 206.28,50.79" fill="none" stroke="#0000ff" stroke-width="1.15" stroke-linejoin="round"/>
<polygon points="212.62,68.52 214.82,71.27 212.62,74.02 210.43,71.27" fill="none" stroke="#0000ff" stroke-width="1.15" stroke-linejoin="round"/>
<polygon points="216.77,66.69 218.97,69.44 216.77,72.19 214.57,69.44" fill="none" stroke="#0000ff" stroke-width="1.15" stroke-linejoin="round"/>
<polygon points="220.92,55.61 223.12,58.36 220.92,61.11 218.72,58.36" fill="none" stroke="#0000ff" stroke-width="1.15" stroke-linejoin="round"/>
<polygon points="225.06,69.17 227.26,71.92 225.06,74.67 222.86,71.92" fill="none" stroke="#0000ff" stroke-width="1.15" stroke-linejoin="round"/>
<polygon points="229.21,68.65 231.41,71.4 229.21,74.15 227.01,71.4" fill="none" stroke="#0000ff" stroke-width="1.15" stroke-linejoin="round"/>
<polygon points="233.35,54.95 235.55,57.7 233.35,60.45 231.15,57.7" fill="none" stroke="#0000ff" stroke-width="1.15" stroke-linejoin="round"/>
<polygon points="237.5,56.91 239.7,59.66 237.5,62.41 235.3,59.66" fill="none" stroke="#0000ff" stroke-width="1.15" stroke-linejoin="round"/>
<polygon points="241.65,72.17 243.85,74.92 241.65,77.67 239.45,74.92" fill="none" stroke="#0000ff" stroke-width="1.15" stroke-linejoin="round"/>
<polygon points="245.79,77.12 247.99,79.87 245.79,82.62 243.59,79.87" fill="none" stroke="#0000ff" stroke-width="1.15" stroke-linejoin="round"/>
<polygon points="249.94,59.52 252.14,62.27 249.94,65.02 247.74,62.27" fill="none" stroke="#0000ff" stroke-width="1.15" stroke-linejoin="round"/>
<polygon points="254.08,74.12 256.28,76.87 254.08,79.62 251.88,76.87" fill="none" stroke="#0000ff" stroke-width="1.15" stroke-linejoin="round"/>
<polygon points="258.23,57.43 260.43,60.18 258.23,62.93 256.03,60.18" fill="none" stroke="#0000ff" stroke-width="1.15" stroke-linejoin="round"/>
<polygon points="262.38,84.03 264.57,86.78 262.38,89.53 260.18,86.78" fill="none" stroke="#0000ff" stroke-width="1.15" stroke-linejoin="round"/>
<polygon points="266.52,59.52 268.72,62.27 266.52,65.02 264.32,62.27" fill="none" stroke="#0000ff" stroke-width="1.15" stroke-linejoin="round"/>
<polygon points="270.67,62.13 272.87,64.88 270.67,67.63 268.47,64.88" fill="none" stroke="#0000ff" stroke-width="1.15" stroke-linejoin="round"/>
<polygon points="274.81,54.04 277.01,56.79 274.81,59.54 272.61,56.79" fill="none" stroke="#0000ff" stroke-width="1.15" stroke-linejoin="round"/>
<polygon points="278.96,79.21 281.16,81.96 278.96,84.71 276.76,81.96" fill="none" stroke="#0000ff" stroke-width="1.15" stroke-linejoin="round"/>
<polygon points="283.1,61.21 285.3,63.96 283.1,66.71 280.9,63.96" fill="none" stroke="#0000ff" stroke-width="1.15" stroke-linejoin="round"/>
<polygon points="287.25,55.61 289.45,58.36 287.25,61.11 285.05,58.36" fill="none" stroke="#0000ff" stroke-width="1.15" stroke-linejoin="round"/>
<polygon points="291.4,59 293.6,61.75 291.4,64.5 289.2,61.75" fill="none" stroke="#0000ff" stroke-width="1.15" stroke-linejoin="round"/>
<polygon points="295.54,74.64 297.74,77.39 295.54,80.14 293.34,77.39" fill="none" stroke="#0000ff" stroke-width="1.15" stroke-linejoin="round"/>
<polygon points="299.69,68.52 301.89,71.27 299.69,74.02 297.49,71.27" fill="none" stroke="#0000ff" stroke-width="1.15" stroke-linejoin="round"/>
<polygon points="303.83,65.13 306.03,67.88 303.83,70.63 301.63,67.88" fill="none" stroke="#0000ff" stroke-width="1.15" stroke-linejoin="round"/>
<polygon points="307.98,70.34 310.18,73.09 307.98,75.84 305.78,73.09" fill="none" stroke="#0000ff" stroke-width="1.15" stroke-linejoin="round"/>
<polygon points="312.12,69.43 314.32,72.18 312.12,74.93 309.93,72.18" fill="none" stroke="#0000ff" stroke-width="1.15" stroke-linejoin="round"/>
<polygon points="316.27,83.9 318.47,86.65 316.27,89.4 314.07,86.65" fill="none" stroke="#0000ff" stroke-width="1.15" stroke-linejoin="round"/>
<polygon points="320.42,64.21 322.62,66.96 320.42,69.71 318.22,66.96" fill="none" stroke="#0000ff" stroke-width="1.15" stroke-linejoin="round"/>
<polygon points="324.56,61.6 326.76,64.35 324.56,67.1 322.36,64.35" fill="none" stroke="#0000ff" stroke-width="1.15" stroke-linejoin="round"/>
<polygon points="328.71,59 330.91,61.75 328.71,64.5 326.51,61.75" fill="none" stroke="#0000ff" stroke-width="1.15" stroke-linejoin="round"/>
<polygon points="332.85,77.64 335.05,80.39 332.85,83.14 330.65,80.39" fill="none" stroke="#0000ff" stroke-width="1.15" stroke-linejoin="round"/>
<polygon points="337,68.52 339.2,71.27 337,74.02 334.8,71.27" fill="none" stroke="#0000ff" stroke-width="1.15" stroke-linejoin="round"/>
<polygon points="341.15,68.52 343.35,71.27 341.15,74.02 338.95,71.27" fill="none" stroke="#0000ff" stroke-width="1.15" stroke-linejoin="round"/>
<polygon points="345.29,77.25 347.49,80 345.29,82.75 343.09,80" fill="none" stroke="#0000ff" stroke-width="1.15" stroke-linejoin="round"/>
<polygon points="349.44,81.56 351.64,84.31 349.44,87.06 347.24,84.31" fill="none" stroke="#0000ff" stroke-width="1.15" stroke-linejoin="round"/>
<polygon points="353.58,68.52 355.78,71.27 353.58,74.02 351.38,71.27" fill="none" stroke="#0000ff" stroke-width="1.15" stroke-linejoin="round"/>
<polygon points="357.73,58.08 359.93,60.83 357.73,63.58 355.53,60.83" fill="none" stroke="#0000ff" stroke-width="1.15" stroke-linejoin="round"/>
<polygon points="361.88,78.95 364.07,81.7 361.88,84.45 359.68,81.7" fill="none" stroke="#0000ff" stroke-width="1.15" stroke-linejoin="round"/>
<polygon points="366.02,42.96 368.22,45.71 366.02,48.46 363.82,45.71" fill="none" stroke="#0000ff" stroke-width="1.15" stroke-linejoin="round"/>
<polygon points="370.17,65.13 372.37,67.88 370.17,70.63 367.97,67.88" fill="none" stroke="#0000ff" stroke-width="1.15" stroke-linejoin="round"/>
<polygon points="374.31,72.95 376.51,75.7 374.31,78.45 372.11,75.7" fill="none" stroke="#0000ff" stroke-width="1.15" stroke-linejoin="round"/>
<polygon points="378.46,47.52 380.66,50.27 378.46,53.02 376.26,50.27" fill="none" stroke="#0000ff" stroke-width="1.15" stroke-linejoin="round"/>
<polygon points="382.6,68.52 384.8,71.27 382.6,74.02 380.4,71.27" fill="none" stroke="#0000ff" stroke-width="1.15" stroke-linejoin="round"/>
<polygon points="386.75,83.9 388.95,86.65 386.75,89.4 384.55,86.65" fill="none" stroke="#0000ff" stroke-width="1.15" stroke-linejoin="round"/>
<polygon points="390.9,67.73 393.1,70.48 390.9,73.23 388.7,70.48" fill="none" stroke="#0000ff" stroke-width="1.15" stroke-linejoin="round"/>
<polygon points="395.04,70.34 397.24,73.09 395.04,75.84 392.84,73.09" fill="none" stroke="#0000ff" stroke-width="1.15" stroke-linejoin="round"/>
<polygon points="399.19,55.48 401.39,58.23 399.19,60.98 396.99,58.23" fill="none" stroke="#0000ff" stroke-width="1.15" stroke-linejoin="round"/>
<polygon points="403.33,69.43 405.53,72.18 403.33,74.93 401.13,72.18" fill="none" stroke="#0000ff" stroke-width="1.15" stroke-linejoin="round"/>
<polygon points="407.48,84.16 409.68,86.91 407.48,89.66 405.28,86.91" fill="none" stroke="#0000ff" stroke-width="1.15" stroke-linejoin="round"/>
<polygon points="411.62,48.04 413.82,50.79 411.62,53.54 409.43,50.79" fill="none" stroke="#0000ff" stroke-width="1.15" stroke-linejoin="round"/>
<polygon points="415.77,68.52 417.97,71.27 415.77,74.02 413.57,71.27" fill="none" stroke="#0000ff" stroke-width="1.15" stroke-linejoin="round"/>
<polygon points="419.92,72.04 422.12,74.79 419.92,77.54 417.72,74.79" fill="none" stroke="#0000ff" stroke-width="1.15" stroke-linejoin="round"/>
<polygon points="424.06,45.04 426.26,47.79 424.06,50.54 421.86,47.79" fill="none" stroke="#0000ff" stroke-width="1.15" stroke-linejoin="round"/>
<polygon points="428.21,72.95 430.41,75.7 428.21,78.45 426.01,75.7" fill="none" stroke="#0000ff" stroke-width="1.15" stroke-linejoin="round"/>
<polygon points="432.35,103.85 434.55,106.6 432.35,109.35 430.15,106.6" fill="none" stroke="#0000ff" stroke-width="1.15" stroke-linejoin="round"/>
<polygon points="436.5,52.09 438.7,54.84 436.5,57.59 434.3,54.84" fill="none" stroke="#0000ff" stroke-width="1.15" stroke-linejoin="round"/>
<polygon points="440.65,73.73 442.85,76.48 440.65,79.23 438.45,76.48" fill="none" stroke="#0000ff" stroke-width="1.15" stroke-linejoin="round"/>
<polygon points="444.79,65.91 446.99,68.66 444.79,71.41 442.59,68.66" fill="none" stroke="#0000ff" stroke-width="1.15" stroke-linejoin="round"/>
<polygon points="448.94,58.08 451.14,60.83 448.94,63.58 446.74,60.83" fill="none" stroke="#0000ff" stroke-width="1.15" stroke-linejoin="round"/>
<polygon points="453.08,72.04 455.28,74.79 453.08,77.54 450.88,74.79" fill="none" stroke="#0000ff" stroke-width="1.15" stroke-linejoin="round"/>
<polygon points="457.23,59.91 459.43,62.66 457.23,65.41 455.03,62.66" fill="none" stroke="#0000ff" stroke-width="1.15" stroke-linejoin="round"/>
<polygon points="461.38,66.82 463.57,69.57 461.38,72.32 459.18,69.57" fill="none" stroke="#0000ff" stroke-width="1.15" stroke-linejoin="round"/>
<polygon points="465.52,95.51 467.72,98.26 465.52,101.01 463.32,98.26" fill="none" stroke="#0000ff" stroke-width="1.15" stroke-linejoin="round"/>
<polygon points="469.67,72.95 471.87,75.7 469.67,78.45 467.47,75.7" fill="none" stroke="#0000ff" stroke-width="1.15" stroke-linejoin="round"/>
<polygon points="473.81,73.73 476.01,76.48 473.81,79.23 471.61,76.48" fill="none" stroke="#0000ff" stroke-width="1.15" stroke-linejoin="round"/>
<polygon points="477.96,85.99 480.16,88.74 477.96,91.49 475.76,88.74" fill="none" stroke="#0000ff" stroke-width="1.15" stroke-linejoin="round"/>
<polygon points="482.1,78.95 484.3,81.7 482.1,84.45 479.9,81.7" fill="none" stroke="#0000ff" stroke-width="1.15" stroke-linejoin="round"/>
<polygon points="486.25,63.3 488.45,66.05 486.25,68.8 484.05,66.05" fill="none" stroke="#0000ff" stroke-width="1.15" stroke-linejoin="round"/>
<polygon points="490.4,67.73 492.6,70.48 490.4,73.23 488.2,70.48" fill="none" stroke="#0000ff" stroke-width="1.15" stroke-linejoin="round"/>
<polygon points="494.54,71.12 496.74,73.87 494.54,76.62 492.34,73.87" fill="none" stroke="#0000ff" stroke-width="1.15" stroke-linejoin="round"/>
<polygon points="498.69,67.73 500.89,70.48 498.69,73.23 496.49,70.48" fill="none" stroke="#0000ff" stroke-width="1.15" stroke-linejoin="round"/>
<polygon points="502.83,59.52 505.03,62.27 502.83,65.02 500.63,62.27" fill="none" stroke="#0000ff" stroke-width="1.15" stroke-linejoin="round"/>
<polygon points="506.98,70.34 509.18,73.09 506.98,75.84 504.78,73.09" fill="none" stroke="#0000ff" stroke-width="1.15" stroke-linejoin="round"/>
<polygon points="511.12,53.13 513.33,55.88 511.12,58.63 508.93,55.88" fill="none" stroke="#0000ff" stroke-width="1.15" stroke-linejoin="round"/>
<rect x="214.5" y="99" width="307" height="24.2" fill="#ffffff" stroke="#262626" stroke-width="1"/>
<line x1="223" y1="110.7" x2="268" y2="110.7" stroke="#ff0000" stroke-width="1" />
<circle cx="246.2" cy="110.7" r="2.15" fill="none" stroke="#ff0000" stroke-width="1.35"/>
<text x="272.2" y="115.8" text-anchor="start" font-size="13.3" fill="#262626" stroke="#262626" stroke-width="0.15" >POLY</text>
<line x1="317" y1="110.7" x2="361" y2="110.7" stroke="#ffcc00" stroke-width="1" />
<polygon points="338.8,108.1 341.15,112.4 336.45,112.4" fill="none" stroke="#ffcc00" stroke-width="1.2" stroke-linejoin="round"/>
<text x="365.9" y="115.8" text-anchor="start" font-size="13.3" fill="#262626" stroke="#262626" stroke-width="0.15" >BPNN-P</text>
<line x1="425" y1="110.7" x2="469" y2="110.7" stroke="#0000ff" stroke-width="1" />
<polygon points="446.8,107.95 449,110.7 446.8,113.45 444.6,110.7" fill="none" stroke="#0000ff" stroke-width="1.15" stroke-linejoin="round"/>
<text x="473.3" y="115.8" text-anchor="start" font-size="13.3" fill="#262626" stroke="#262626" stroke-width="0.15" >SVM-P</text>
<text x="38.5" y="158.1" text-anchor="middle" font-size="13.3" fill="#262626" stroke="#262626" stroke-width="0.15" >0</text>
<text x="121.42" y="158.1" text-anchor="middle" font-size="13.3" fill="#262626" stroke="#262626" stroke-width="0.15" >20</text>
<text x="204.33" y="158.1" text-anchor="middle" font-size="13.3" fill="#262626" stroke="#262626" stroke-width="0.15" >40</text>
<text x="287.25" y="158.1" text-anchor="middle" font-size="13.3" fill="#262626" stroke="#262626" stroke-width="0.15" >60</text>
<text x="370.17" y="158.1" text-anchor="middle" font-size="13.3" fill="#262626" stroke="#262626" stroke-width="0.15" >80</text>
<text x="453.08" y="158.1" text-anchor="middle" font-size="13.3" fill="#262626" stroke="#262626" stroke-width="0.15" >100</text>
<text x="536" y="158.1" text-anchor="middle" font-size="13.3" fill="#262626" stroke="#262626" stroke-width="0.15" >120</text>
<text x="32" y="142.9" text-anchor="end" font-size="13.3" fill="#262626" stroke="#262626" stroke-width="0.15" >-5</text>
<text x="32" y="110.3" text-anchor="end" font-size="13.3" fill="#262626" stroke="#262626" stroke-width="0.15" >-2.5</text>
<text x="32" y="77.7" text-anchor="end" font-size="13.3" fill="#262626" stroke="#262626" stroke-width="0.15" >0</text>
<text x="32" y="45.1" text-anchor="end" font-size="13.3" fill="#262626" stroke="#262626" stroke-width="0.15" >2.5</text>
<text x="32" y="12.5" text-anchor="end" font-size="13.3" fill="#262626" stroke="#262626" stroke-width="0.15" >5</text>
<text x="287.5" y="176.5" text-anchor="middle" font-size="14" fill="#262626" stroke="#262626" stroke-width="0.15" >(a)</text>
<line x1="93.78" y1="189.4" x2="93.78" y2="224.75" stroke="#8a8a8a" stroke-width="1" />
<line x1="149.06" y1="189.4" x2="149.06" y2="224.75" stroke="#8a8a8a" stroke-width="1" />
<line x1="314.89" y1="189.4" x2="314.89" y2="224.75" stroke="#8a8a8a" stroke-width="1" />
<line x1="204.33" y1="189.4" x2="204.33" y2="224.75" stroke="#b5b5b5" stroke-width="1" />
<line x1="425.44" y1="224.75" x2="425.44" y2="330.8" stroke="#a0a0a0" stroke-width="1" />
<line x1="480.72" y1="224.75" x2="480.72" y2="330.8" stroke="#a0a0a0" stroke-width="1" />
<line x1="60.4" y1="224.75" x2="536" y2="224.75" stroke="#8a8a8a" stroke-width="1" />
<line x1="60.4" y1="295.45" x2="214.5" y2="295.45" stroke="#b5b5b5" stroke-width="1" />
<rect x="38.5" y="189.4" width="497.5" height="141.4" fill="none" stroke="#262626" stroke-width="1"/>
<line x1="38.5" y1="330.8" x2="38.5" y2="325.8" stroke="#262626" stroke-width="1" />
<line x1="38.5" y1="189.4" x2="38.5" y2="194.4" stroke="#262626" stroke-width="1" />
<line x1="93.78" y1="330.8" x2="93.78" y2="325.8" stroke="#262626" stroke-width="1" />
<line x1="93.78" y1="189.4" x2="93.78" y2="194.4" stroke="#262626" stroke-width="1" />
<line x1="149.06" y1="330.8" x2="149.06" y2="325.8" stroke="#262626" stroke-width="1" />
<line x1="149.06" y1="189.4" x2="149.06" y2="194.4" stroke="#262626" stroke-width="1" />
<line x1="204.33" y1="330.8" x2="204.33" y2="325.8" stroke="#262626" stroke-width="1" />
<line x1="204.33" y1="189.4" x2="204.33" y2="194.4" stroke="#262626" stroke-width="1" />
<line x1="259.61" y1="330.8" x2="259.61" y2="325.8" stroke="#262626" stroke-width="1" />
<line x1="259.61" y1="189.4" x2="259.61" y2="194.4" stroke="#262626" stroke-width="1" />
<line x1="314.89" y1="330.8" x2="314.89" y2="325.8" stroke="#262626" stroke-width="1" />
<line x1="314.89" y1="189.4" x2="314.89" y2="194.4" stroke="#262626" stroke-width="1" />
<line x1="370.17" y1="330.8" x2="370.17" y2="325.8" stroke="#262626" stroke-width="1" />
<line x1="370.17" y1="189.4" x2="370.17" y2="194.4" stroke="#262626" stroke-width="1" />
<line x1="425.44" y1="330.8" x2="425.44" y2="325.8" stroke="#262626" stroke-width="1" />
<line x1="425.44" y1="189.4" x2="425.44" y2="194.4" stroke="#262626" stroke-width="1" />
<line x1="480.72" y1="330.8" x2="480.72" y2="325.8" stroke="#262626" stroke-width="1" />
<line x1="480.72" y1="189.4" x2="480.72" y2="194.4" stroke="#262626" stroke-width="1" />
<line x1="536" y1="330.8" x2="536" y2="325.8" stroke="#262626" stroke-width="1" />
<line x1="536" y1="189.4" x2="536" y2="194.4" stroke="#262626" stroke-width="1" />
<line x1="38.5" y1="330.8" x2="43.5" y2="330.8" stroke="#262626" stroke-width="1" />
<line x1="536" y1="330.8" x2="531" y2="330.8" stroke="#262626" stroke-width="1" />
<line x1="38.5" y1="295.45" x2="43.5" y2="295.45" stroke="#262626" stroke-width="1" />
<line x1="536" y1="295.45" x2="531" y2="295.45" stroke="#262626" stroke-width="1" />
<line x1="38.5" y1="260.1" x2="43.5" y2="260.1" stroke="#262626" stroke-width="1" />
<line x1="536" y1="260.1" x2="531" y2="260.1" stroke="#262626" stroke-width="1" />
<line x1="38.5" y1="224.75" x2="43.5" y2="224.75" stroke="#262626" stroke-width="1" />
<line x1="536" y1="224.75" x2="531" y2="224.75" stroke="#262626" stroke-width="1" />
<line x1="38.5" y1="189.4" x2="43.5" y2="189.4" stroke="#262626" stroke-width="1" />
<line x1="536" y1="189.4" x2="531" y2="189.4" stroke="#262626" stroke-width="1" />
<polyline points="44.03,256.42 49.56,255.43 55.08,255.86 60.61,266.04 66.14,255.86 71.67,287.96 77.19,219.94 82.72,261.37 88.25,236.34 93.78,235.36 99.31,238.32 104.83,252.32 110.36,231.82 115.89,244.12 121.42,287.96 126.94,239.46 132.47,277.35 138,244.12 143.53,282.44 149.06,256.42 154.58,262.93 160.11,248.65 165.64,273.67 171.17,257.27 176.69,236.77 182.22,222.35 187.75,303.93 193.28,250.63 198.81,233.23 204.33,261.94 209.86,227.15 215.39,226.16 220.92,220.37 226.44,266.6 231.97,229.84 237.5,274.24 243.03,222.06 248.56,253.74 254.08,287.96 259.61,242.85 265.14,256.42 270.67,236.34 276.19,282.44 281.72,225.03 287.25,231.25 292.78,248.65 298.31,264.62 303.83,270.14 309.36,226.16 314.89,272.12 320.42,244.97 325.94,296.86 331.47,227.15 337,265.47 342.53,235.92 348.06,287.53 353.58,249.64 359.11,249.64 364.64,228.57 370.17,258.4 375.69,260.95 381.22,296.86 386.75,271.55 392.28,260.95 397.81,283.43 403.33,248.65 408.86,263.35 414.39,253.17 419.92,296.86 425.44,268.73 430.97,227.15 436.5,221.64 442.03,257.27 447.56,221.64 453.08,254.02 458.61,235.36 464.14,260.95 469.67,275.65 475.19,251.76 480.72,296.86 486.25,232.67 491.78,247.66 497.31,244.97 502.83,256.42 508.36,259.96 513.89,258.83 519.42,296.86 524.94,253.17" fill="none" stroke="#ff0000" stroke-width="1.25" stroke-linejoin="round"/>
<circle cx="44.03" cy="256.42" r="2.15" fill="none" stroke="#ff0000" stroke-width="1.35"/>
<circle cx="49.56" cy="255.43" r="2.15" fill="none" stroke="#ff0000" stroke-width="1.35"/>
<circle cx="55.08" cy="255.86" r="2.15" fill="none" stroke="#ff0000" stroke-width="1.35"/>
<circle cx="60.61" cy="266.04" r="2.15" fill="none" stroke="#ff0000" stroke-width="1.35"/>
<circle cx="66.14" cy="255.86" r="2.15" fill="none" stroke="#ff0000" stroke-width="1.35"/>
<circle cx="71.67" cy="287.96" r="2.15" fill="none" stroke="#ff0000" stroke-width="1.35"/>
<circle cx="77.19" cy="219.94" r="2.15" fill="none" stroke="#ff0000" stroke-width="1.35"/>
<circle cx="82.72" cy="261.37" r="2.15" fill="none" stroke="#ff0000" stroke-width="1.35"/>
<circle cx="88.25" cy="236.34" r="2.15" fill="none" stroke="#ff0000" stroke-width="1.35"/>
<circle cx="93.78" cy="235.36" r="2.15" fill="none" stroke="#ff0000" stroke-width="1.35"/>
<circle cx="99.31" cy="238.32" r="2.15" fill="none" stroke="#ff0000" stroke-width="1.35"/>
<circle cx="104.83" cy="252.32" r="2.15" fill="none" stroke="#ff0000" stroke-width="1.35"/>
<circle cx="110.36" cy="231.82" r="2.15" fill="none" stroke="#ff0000" stroke-width="1.35"/>
<circle cx="115.89" cy="244.12" r="2.15" fill="none" stroke="#ff0000" stroke-width="1.35"/>
<circle cx="121.42" cy="287.96" r="2.15" fill="none" stroke="#ff0000" stroke-width="1.35"/>
<circle cx="126.94" cy="239.46" r="2.15" fill="none" stroke="#ff0000" stroke-width="1.35"/>
<circle cx="132.47" cy="277.35" r="2.15" fill="none" stroke="#ff0000" stroke-width="1.35"/>
<circle cx="138" cy="244.12" r="2.15" fill="none" stroke="#ff0000" stroke-width="1.35"/>
<circle cx="143.53" cy="282.44" r="2.15" fill="none" stroke="#ff0000" stroke-width="1.35"/>
<circle cx="149.06" cy="256.42" r="2.15" fill="none" stroke="#ff0000" stroke-width="1.35"/>
<circle cx="154.58" cy="262.93" r="2.15" fill="none" stroke="#ff0000" stroke-width="1.35"/>
<circle cx="160.11" cy="248.65" r="2.15" fill="none" stroke="#ff0000" stroke-width="1.35"/>
<circle cx="165.64" cy="273.67" r="2.15" fill="none" stroke="#ff0000" stroke-width="1.35"/>
<circle cx="171.17" cy="257.27" r="2.15" fill="none" stroke="#ff0000" stroke-width="1.35"/>
<circle cx="176.69" cy="236.77" r="2.15" fill="none" stroke="#ff0000" stroke-width="1.35"/>
<circle cx="182.22" cy="222.35" r="2.15" fill="none" stroke="#ff0000" stroke-width="1.35"/>
<circle cx="187.75" cy="303.93" r="2.15" fill="none" stroke="#ff0000" stroke-width="1.35"/>
<circle cx="193.28" cy="250.63" r="2.15" fill="none" stroke="#ff0000" stroke-width="1.35"/>
<circle cx="198.81" cy="233.23" r="2.15" fill="none" stroke="#ff0000" stroke-width="1.35"/>
<circle cx="204.33" cy="261.94" r="2.15" fill="none" stroke="#ff0000" stroke-width="1.35"/>
<circle cx="209.86" cy="227.15" r="2.15" fill="none" stroke="#ff0000" stroke-width="1.35"/>
<circle cx="215.39" cy="226.16" r="2.15" fill="none" stroke="#ff0000" stroke-width="1.35"/>
<circle cx="220.92" cy="220.37" r="2.15" fill="none" stroke="#ff0000" stroke-width="1.35"/>
<circle cx="226.44" cy="266.6" r="2.15" fill="none" stroke="#ff0000" stroke-width="1.35"/>
<circle cx="231.97" cy="229.84" r="2.15" fill="none" stroke="#ff0000" stroke-width="1.35"/>
<circle cx="237.5" cy="274.24" r="2.15" fill="none" stroke="#ff0000" stroke-width="1.35"/>
<circle cx="243.03" cy="222.06" r="2.15" fill="none" stroke="#ff0000" stroke-width="1.35"/>
<circle cx="248.56" cy="253.74" r="2.15" fill="none" stroke="#ff0000" stroke-width="1.35"/>
<circle cx="254.08" cy="287.96" r="2.15" fill="none" stroke="#ff0000" stroke-width="1.35"/>
<circle cx="259.61" cy="242.85" r="2.15" fill="none" stroke="#ff0000" stroke-width="1.35"/>
<circle cx="265.14" cy="256.42" r="2.15" fill="none" stroke="#ff0000" stroke-width="1.35"/>
<circle cx="270.67" cy="236.34" r="2.15" fill="none" stroke="#ff0000" stroke-width="1.35"/>
<circle cx="276.19" cy="282.44" r="2.15" fill="none" stroke="#ff0000" stroke-width="1.35"/>
<circle cx="281.72" cy="225.03" r="2.15" fill="none" stroke="#ff0000" stroke-width="1.35"/>
<circle cx="287.25" cy="231.25" r="2.15" fill="none" stroke="#ff0000" stroke-width="1.35"/>
<circle cx="292.78" cy="248.65" r="2.15" fill="none" stroke="#ff0000" stroke-width="1.35"/>
<circle cx="298.31" cy="264.62" r="2.15" fill="none" stroke="#ff0000" stroke-width="1.35"/>
<circle cx="303.83" cy="270.14" r="2.15" fill="none" stroke="#ff0000" stroke-width="1.35"/>
<circle cx="309.36" cy="226.16" r="2.15" fill="none" stroke="#ff0000" stroke-width="1.35"/>
<circle cx="314.89" cy="272.12" r="2.15" fill="none" stroke="#ff0000" stroke-width="1.35"/>
<circle cx="320.42" cy="244.97" r="2.15" fill="none" stroke="#ff0000" stroke-width="1.35"/>
<circle cx="325.94" cy="296.86" r="2.15" fill="none" stroke="#ff0000" stroke-width="1.35"/>
<circle cx="331.47" cy="227.15" r="2.15" fill="none" stroke="#ff0000" stroke-width="1.35"/>
<circle cx="337" cy="265.47" r="2.15" fill="none" stroke="#ff0000" stroke-width="1.35"/>
<circle cx="342.53" cy="235.92" r="2.15" fill="none" stroke="#ff0000" stroke-width="1.35"/>
<circle cx="348.06" cy="287.53" r="2.15" fill="none" stroke="#ff0000" stroke-width="1.35"/>
<circle cx="353.58" cy="249.64" r="2.15" fill="none" stroke="#ff0000" stroke-width="1.35"/>
<circle cx="359.11" cy="249.64" r="2.15" fill="none" stroke="#ff0000" stroke-width="1.35"/>
<circle cx="364.64" cy="228.57" r="2.15" fill="none" stroke="#ff0000" stroke-width="1.35"/>
<circle cx="370.17" cy="258.4" r="2.15" fill="none" stroke="#ff0000" stroke-width="1.35"/>
<circle cx="375.69" cy="260.95" r="2.15" fill="none" stroke="#ff0000" stroke-width="1.35"/>
<circle cx="381.22" cy="296.86" r="2.15" fill="none" stroke="#ff0000" stroke-width="1.35"/>
<circle cx="386.75" cy="271.55" r="2.15" fill="none" stroke="#ff0000" stroke-width="1.35"/>
<circle cx="392.28" cy="260.95" r="2.15" fill="none" stroke="#ff0000" stroke-width="1.35"/>
<circle cx="397.81" cy="283.43" r="2.15" fill="none" stroke="#ff0000" stroke-width="1.35"/>
<circle cx="403.33" cy="248.65" r="2.15" fill="none" stroke="#ff0000" stroke-width="1.35"/>
<circle cx="408.86" cy="263.35" r="2.15" fill="none" stroke="#ff0000" stroke-width="1.35"/>
<circle cx="414.39" cy="253.17" r="2.15" fill="none" stroke="#ff0000" stroke-width="1.35"/>
<circle cx="419.92" cy="296.86" r="2.15" fill="none" stroke="#ff0000" stroke-width="1.35"/>
<circle cx="425.44" cy="268.73" r="2.15" fill="none" stroke="#ff0000" stroke-width="1.35"/>
<circle cx="430.97" cy="227.15" r="2.15" fill="none" stroke="#ff0000" stroke-width="1.35"/>
<circle cx="436.5" cy="221.64" r="2.15" fill="none" stroke="#ff0000" stroke-width="1.35"/>
<circle cx="442.03" cy="257.27" r="2.15" fill="none" stroke="#ff0000" stroke-width="1.35"/>
<circle cx="447.56" cy="221.64" r="2.15" fill="none" stroke="#ff0000" stroke-width="1.35"/>
<circle cx="453.08" cy="254.02" r="2.15" fill="none" stroke="#ff0000" stroke-width="1.35"/>
<circle cx="458.61" cy="235.36" r="2.15" fill="none" stroke="#ff0000" stroke-width="1.35"/>
<circle cx="464.14" cy="260.95" r="2.15" fill="none" stroke="#ff0000" stroke-width="1.35"/>
<circle cx="469.67" cy="275.65" r="2.15" fill="none" stroke="#ff0000" stroke-width="1.35"/>
<circle cx="475.19" cy="251.76" r="2.15" fill="none" stroke="#ff0000" stroke-width="1.35"/>
<circle cx="480.72" cy="296.86" r="2.15" fill="none" stroke="#ff0000" stroke-width="1.35"/>
<circle cx="486.25" cy="232.67" r="2.15" fill="none" stroke="#ff0000" stroke-width="1.35"/>
<circle cx="491.78" cy="247.66" r="2.15" fill="none" stroke="#ff0000" stroke-width="1.35"/>
<circle cx="497.31" cy="244.97" r="2.15" fill="none" stroke="#ff0000" stroke-width="1.35"/>
<circle cx="502.83" cy="256.42" r="2.15" fill="none" stroke="#ff0000" stroke-width="1.35"/>
<circle cx="508.36" cy="259.96" r="2.15" fill="none" stroke="#ff0000" stroke-width="1.35"/>
<circle cx="513.89" cy="258.83" r="2.15" fill="none" stroke="#ff0000" stroke-width="1.35"/>
<circle cx="519.42" cy="296.86" r="2.15" fill="none" stroke="#ff0000" stroke-width="1.35"/>
<circle cx="524.94" cy="253.17" r="2.15" fill="none" stroke="#ff0000" stroke-width="1.35"/>
<polyline points="44.03,268.02 49.56,257.84 55.08,269.15 60.61,267.03 66.14,275.23 71.67,267.03 77.19,250.2 82.72,232.24 88.25,223.05 93.78,236.34 99.31,238.32 104.83,235.36 110.36,250.63 115.89,264.06 121.42,268.02 126.94,257.84 132.47,266.04 138,254.73 143.53,268.73 149.06,271.55 154.58,260.95 160.11,244.55 165.64,271.55 171.17,265.47 176.69,271.13 182.22,229.13 187.75,265.47 193.28,235.92 198.81,233.94 204.33,247.66 209.86,235.36 215.39,249.64 220.92,247.66 226.44,266.04 231.97,241.44 237.5,253.74 243.03,247.66 248.56,262.5 254.08,265.47 259.61,271.55 265.14,261.94 270.67,246.24 276.19,273.67 281.72,246.24 287.25,238.32 292.78,217.82 298.31,282.44 303.83,264.62 309.36,240.45 314.89,283.43 320.42,261.94 325.94,270.14 331.47,257.84 337,266.04 342.53,227.15 348.06,270.14 353.58,260.52 359.11,255.15 364.64,264.06 370.17,244.55 375.69,229.13 381.22,232.67 386.75,241.44 392.28,233.94 397.81,254.3 403.33,240.45 408.86,249.64 414.39,240.02 419.92,244.12 425.44,266.04 430.97,232.67 436.5,242.43 442.03,239.46 447.56,222.35 453.08,271.55 458.61,261.94 464.14,256.42 469.67,270.14 475.19,258.83 480.72,254.3 486.25,255.86 491.78,268.02 497.31,266.04 502.83,260.95 508.36,251.76 513.89,258.83 519.42,255.86 524.94,275.23" fill="none" stroke="#ffcc00" stroke-width="1.25" stroke-linejoin="round"/>
<polygon points="44.03,265.42 46.38,269.72 41.68,269.72" fill="none" stroke="#ffcc00" stroke-width="1.2" stroke-linejoin="round"/>
<polygon points="49.56,255.24 51.91,259.54 47.21,259.54" fill="none" stroke="#ffcc00" stroke-width="1.2" stroke-linejoin="round"/>
<polygon points="55.08,266.55 57.43,270.85 52.73,270.85" fill="none" stroke="#ffcc00" stroke-width="1.2" stroke-linejoin="round"/>
<polygon points="60.61,264.43 62.96,268.73 58.26,268.73" fill="none" stroke="#ffcc00" stroke-width="1.2" stroke-linejoin="round"/>
<polygon points="66.14,272.63 68.49,276.93 63.79,276.93" fill="none" stroke="#ffcc00" stroke-width="1.2" stroke-linejoin="round"/>
<polygon points="71.67,264.43 74.02,268.73 69.32,268.73" fill="none" stroke="#ffcc00" stroke-width="1.2" stroke-linejoin="round"/>
<polygon points="77.19,247.6 79.54,251.9 74.84,251.9" fill="none" stroke="#ffcc00" stroke-width="1.2" stroke-linejoin="round"/>
<polygon points="82.72,229.64 85.07,233.94 80.37,233.94" fill="none" stroke="#ffcc00" stroke-width="1.2" stroke-linejoin="round"/>
<polygon points="88.25,220.45 90.6,224.75 85.9,224.75" fill="none" stroke="#ffcc00" stroke-width="1.2" stroke-linejoin="round"/>
<polygon points="93.78,233.74 96.13,238.04 91.43,238.04" fill="none" stroke="#ffcc00" stroke-width="1.2" stroke-linejoin="round"/>
<polygon points="99.31,235.72 101.66,240.02 96.96,240.02" fill="none" stroke="#ffcc00" stroke-width="1.2" stroke-linejoin="round"/>
<polygon points="104.83,232.76 107.18,237.06 102.48,237.06" fill="none" stroke="#ffcc00" stroke-width="1.2" stroke-linejoin="round"/>
<polygon points="110.36,248.03 112.71,252.33 108.01,252.33" fill="none" stroke="#ffcc00" stroke-width="1.2" stroke-linejoin="round"/>
<polygon points="115.89,261.46 118.24,265.76 113.54,265.76" fill="none" stroke="#ffcc00" stroke-width="1.2" stroke-linejoin="round"/>
<polygon points="121.42,265.42 123.77,269.72 119.07,269.72" fill="none" stroke="#ffcc00" stroke-width="1.2" stroke-linejoin="round"/>
<polygon points="126.94,255.24 129.29,259.54 124.59,259.54" fill="none" stroke="#ffcc00" stroke-width="1.2" stroke-linejoin="round"/>
<polygon points="132.47,263.44 134.82,267.74 130.12,267.74" fill="none" stroke="#ffcc00" stroke-width="1.2" stroke-linejoin="round"/>
<polygon points="138,252.13 140.35,256.43 135.65,256.43" fill="none" stroke="#ffcc00" stroke-width="1.2" stroke-linejoin="round"/>
<polygon points="143.53,266.13 145.88,270.43 141.18,270.43" fill="none" stroke="#ffcc00" stroke-width="1.2" stroke-linejoin="round"/>
<polygon points="149.06,268.95 151.41,273.25 146.71,273.25" fill="none" stroke="#ffcc00" stroke-width="1.2" stroke-linejoin="round"/>
<polygon points="154.58,258.35 156.93,262.65 152.23,262.65" fill="none" stroke="#ffcc00" stroke-width="1.2" stroke-linejoin="round"/>
<polygon points="160.11,241.95 162.46,246.25 157.76,246.25" fill="none" stroke="#ffcc00" stroke-width="1.2" stroke-linejoin="round"/>
<polygon points="165.64,268.95 167.99,273.25 163.29,273.25" fill="none" stroke="#ffcc00" stroke-width="1.2" stroke-linejoin="round"/>
<polygon points="171.17,262.87 173.52,267.17 168.82,267.17" fill="none" stroke="#ffcc00" stroke-width="1.2" stroke-linejoin="round"/>
<polygon points="176.69,268.53 179.04,272.83 174.34,272.83" fill="none" stroke="#ffcc00" stroke-width="1.2" stroke-linejoin="round"/>
<polygon points="182.22,226.53 184.57,230.83 179.87,230.83" fill="none" stroke="#ffcc00" stroke-width="1.2" stroke-linejoin="round"/>
<polygon points="187.75,262.87 190.1,267.17 185.4,267.17" fill="none" stroke="#ffcc00" stroke-width="1.2" stroke-linejoin="round"/>
<polygon points="193.28,233.32 195.63,237.62 190.93,237.62" fill="none" stroke="#ffcc00" stroke-width="1.2" stroke-linejoin="round"/>
<polygon points="198.81,231.34 201.16,235.64 196.46,235.64" fill="none" stroke="#ffcc00" stroke-width="1.2" stroke-linejoin="round"/>
<polygon points="204.33,245.06 206.68,249.36 201.98,249.36" fill="none" stroke="#ffcc00" stroke-width="1.2" stroke-linejoin="round"/>
<polygon points="209.86,232.76 212.21,237.06 207.51,237.06" fill="none" stroke="#ffcc00" stroke-width="1.2" stroke-linejoin="round"/>
<polygon points="215.39,247.04 217.74,251.34 213.04,251.34" fill="none" stroke="#ffcc00" stroke-width="1.2" stroke-linejoin="round"/>
<polygon points="220.92,245.06 223.27,249.36 218.57,249.36" fill="none" stroke="#ffcc00" stroke-width="1.2" stroke-linejoin="round"/>
<polygon points="226.44,263.44 228.79,267.74 224.09,267.74" fill="none" stroke="#ffcc00" stroke-width="1.2" stroke-linejoin="round"/>
<polygon points="231.97,238.84 234.32,243.14 229.62,243.14" fill="none" stroke="#ffcc00" stroke-width="1.2" stroke-linejoin="round"/>
<polygon points="237.5,251.14 239.85,255.44 235.15,255.44" fill="none" stroke="#ffcc00" stroke-width="1.2" stroke-linejoin="round"/>
<polygon points="243.03,245.06 245.38,249.36 240.68,249.36" fill="none" stroke="#ffcc00" stroke-width="1.2" stroke-linejoin="round"/>
<polygon points="248.56,259.9 250.91,264.2 246.21,264.2" fill="none" stroke="#ffcc00" stroke-width="1.2" stroke-linejoin="round"/>
<polygon points="254.08,262.87 256.43,267.17 251.73,267.17" fill="none" stroke="#ffcc00" stroke-width="1.2" stroke-linejoin="round"/>
<polygon points="259.61,268.95 261.96,273.25 257.26,273.25" fill="none" stroke="#ffcc00" stroke-width="1.2" stroke-linejoin="round"/>
<polygon points="265.14,259.34 267.49,263.64 262.79,263.64" fill="none" stroke="#ffcc00" stroke-width="1.2" stroke-linejoin="round"/>
<polygon points="270.67,243.64 273.02,247.94 268.32,247.94" fill="none" stroke="#ffcc00" stroke-width="1.2" stroke-linejoin="round"/>
<polygon points="276.19,271.07 278.54,275.37 273.84,275.37" fill="none" stroke="#ffcc00" stroke-width="1.2" stroke-linejoin="round"/>
<polygon points="281.72,243.64 284.07,247.94 279.37,247.94" fill="none" stroke="#ffcc00" stroke-width="1.2" stroke-linejoin="round"/>
<polygon points="287.25,235.72 289.6,240.02 284.9,240.02" fill="none" stroke="#ffcc00" stroke-width="1.2" stroke-linejoin="round"/>
<polygon points="292.78,215.22 295.13,219.52 290.43,219.52" fill="none" stroke="#ffcc00" stroke-width="1.2" stroke-linejoin="round"/>
<polygon points="298.31,279.84 300.66,284.14 295.96,284.14" fill="none" stroke="#ffcc00" stroke-width="1.2" stroke-linejoin="round"/>
<polygon points="303.83,262.02 306.18,266.32 301.48,266.32" fill="none" stroke="#ffcc00" stroke-width="1.2" stroke-linejoin="round"/>
<polygon points="309.36,237.85 311.71,242.15 307.01,242.15" fill="none" stroke="#ffcc00" stroke-width="1.2" stroke-linejoin="round"/>
<polygon points="314.89,280.83 317.24,285.13 312.54,285.13" fill="none" stroke="#ffcc00" stroke-width="1.2" stroke-linejoin="round"/>
<polygon points="320.42,259.34 322.77,263.64 318.07,263.64" fill="none" stroke="#ffcc00" stroke-width="1.2" stroke-linejoin="round"/>
<polygon points="325.94,267.54 328.29,271.84 323.59,271.84" fill="none" stroke="#ffcc00" stroke-width="1.2" stroke-linejoin="round"/>
<polygon points="331.47,255.24 333.82,259.54 329.12,259.54" fill="none" stroke="#ffcc00" stroke-width="1.2" stroke-linejoin="round"/>
<polygon points="337,263.44 339.35,267.74 334.65,267.74" fill="none" stroke="#ffcc00" stroke-width="1.2" stroke-linejoin="round"/>
<polygon points="342.53,224.55 344.88,228.85 340.18,228.85" fill="none" stroke="#ffcc00" stroke-width="1.2" stroke-linejoin="round"/>
<polygon points="348.06,267.54 350.41,271.84 345.71,271.84" fill="none" stroke="#ffcc00" stroke-width="1.2" stroke-linejoin="round"/>
<polygon points="353.58,257.92 355.93,262.22 351.23,262.22" fill="none" stroke="#ffcc00" stroke-width="1.2" stroke-linejoin="round"/>
<polygon points="359.11,252.55 361.46,256.85 356.76,256.85" fill="none" stroke="#ffcc00" stroke-width="1.2" stroke-linejoin="round"/>
<polygon points="364.64,261.46 366.99,265.76 362.29,265.76" fill="none" stroke="#ffcc00" stroke-width="1.2" stroke-linejoin="round"/>
<polygon points="370.17,241.95 372.52,246.25 367.82,246.25" fill="none" stroke="#ffcc00" stroke-width="1.2" stroke-linejoin="round"/>
<polygon points="375.69,226.53 378.04,230.83 373.34,230.83" fill="none" stroke="#ffcc00" stroke-width="1.2" stroke-linejoin="round"/>
<polygon points="381.22,230.07 383.57,234.37 378.87,234.37" fill="none" stroke="#ffcc00" stroke-width="1.2" stroke-linejoin="round"/>
<polygon points="386.75,238.84 389.1,243.14 384.4,243.14" fill="none" stroke="#ffcc00" stroke-width="1.2" stroke-linejoin="round"/>
<polygon points="392.28,231.34 394.63,235.64 389.93,235.64" fill="none" stroke="#ffcc00" stroke-width="1.2" stroke-linejoin="round"/>
<polygon points="397.81,251.7 400.16,256 395.46,256" fill="none" stroke="#ffcc00" stroke-width="1.2" stroke-linejoin="round"/>
<polygon points="403.33,237.85 405.68,242.15 400.98,242.15" fill="none" stroke="#ffcc00" stroke-width="1.2" stroke-linejoin="round"/>
<polygon points="408.86,247.04 411.21,251.34 406.51,251.34" fill="none" stroke="#ffcc00" stroke-width="1.2" stroke-linejoin="round"/>
<polygon points="414.39,237.42 416.74,241.72 412.04,241.72" fill="none" stroke="#ffcc00" stroke-width="1.2" stroke-linejoin="round"/>
<polygon points="419.92,241.52 422.27,245.82 417.57,245.82" fill="none" stroke="#ffcc00" stroke-width="1.2" stroke-linejoin="round"/>
<polygon points="425.44,263.44 427.79,267.74 423.09,267.74" fill="none" stroke="#ffcc00" stroke-width="1.2" stroke-linejoin="round"/>
<polygon points="430.97,230.07 433.32,234.37 428.62,234.37" fill="none" stroke="#ffcc00" stroke-width="1.2" stroke-linejoin="round"/>
<polygon points="436.5,239.83 438.85,244.12 434.15,244.12" fill="none" stroke="#ffcc00" stroke-width="1.2" stroke-linejoin="round"/>
<polygon points="442.03,236.86 444.38,241.16 439.68,241.16" fill="none" stroke="#ffcc00" stroke-width="1.2" stroke-linejoin="round"/>
<polygon points="447.56,219.75 449.91,224.05 445.21,224.05" fill="none" stroke="#ffcc00" stroke-width="1.2" stroke-linejoin="round"/>
<polygon points="453.08,268.95 455.43,273.25 450.73,273.25" fill="none" stroke="#ffcc00" stroke-width="1.2" stroke-linejoin="round"/>
<polygon points="458.61,259.34 460.96,263.64 456.26,263.64" fill="none" stroke="#ffcc00" stroke-width="1.2" stroke-linejoin="round"/>
<polygon points="464.14,253.82 466.49,258.12 461.79,258.12" fill="none" stroke="#ffcc00" stroke-width="1.2" stroke-linejoin="round"/>
<polygon points="469.67,267.54 472.02,271.84 467.32,271.84" fill="none" stroke="#ffcc00" stroke-width="1.2" stroke-linejoin="round"/>
<polygon points="475.19,256.23 477.54,260.53 472.84,260.53" fill="none" stroke="#ffcc00" stroke-width="1.2" stroke-linejoin="round"/>
<polygon points="480.72,251.7 483.07,256 478.37,256" fill="none" stroke="#ffcc00" stroke-width="1.2" stroke-linejoin="round"/>
<polygon points="486.25,253.26 488.6,257.56 483.9,257.56" fill="none" stroke="#ffcc00" stroke-width="1.2" stroke-linejoin="round"/>
<polygon points="491.78,265.42 494.13,269.72 489.43,269.72" fill="none" stroke="#ffcc00" stroke-width="1.2" stroke-linejoin="round"/>
<polygon points="497.31,263.44 499.66,267.74 494.96,267.74" fill="none" stroke="#ffcc00" stroke-width="1.2" stroke-linejoin="round"/>
<polygon points="502.83,258.35 505.18,262.65 500.48,262.65" fill="none" stroke="#ffcc00" stroke-width="1.2" stroke-linejoin="round"/>
<polygon points="508.36,249.16 510.71,253.46 506.01,253.46" fill="none" stroke="#ffcc00" stroke-width="1.2" stroke-linejoin="round"/>
<polygon points="513.89,256.23 516.24,260.53 511.54,260.53" fill="none" stroke="#ffcc00" stroke-width="1.2" stroke-linejoin="round"/>
<polygon points="519.42,253.26 521.77,257.56 517.07,257.56" fill="none" stroke="#ffcc00" stroke-width="1.2" stroke-linejoin="round"/>
<polygon points="524.94,272.63 527.29,276.93 522.59,276.93" fill="none" stroke="#ffcc00" stroke-width="1.2" stroke-linejoin="round"/>
<polyline points="44.03,255.86 49.56,263.35 55.08,250.2 60.61,254.73 66.14,270.14 71.67,252.75 77.19,276.93 82.72,256.42 88.25,283.43 93.78,231.25 99.31,295.31 104.83,227.15 110.36,266.6 115.89,246.24 121.42,261.23 126.94,272.12 132.47,277.35 138,273.25 143.53,247.66 149.06,271.55 154.58,261.37 160.11,266.6 165.64,286.54 171.17,257.84 176.69,255.15 182.22,227.15 187.75,256.85 193.28,272.12 198.81,225.03 204.33,235.92 209.86,257.84 215.39,242.14 220.92,246.53 226.44,256.42 231.97,257.84 237.5,242.85 243.03,267.45 248.56,254.3 254.08,242.43 259.61,257.84 265.14,281.45 270.67,244.12 276.19,250.63 281.72,244.55 287.25,249.64 292.78,263.35 298.31,259.96 303.83,266.04 309.36,243.56 314.89,259.96 320.42,261.37 325.94,253.17 331.47,254.73 337,283.43 342.53,262.5 348.06,258.4 353.58,259.96 359.11,242.14 364.64,267.45 370.17,253.74 375.69,271.55 381.22,271.55 386.75,251.05 392.28,259.96 397.81,258.4 403.33,258.83 408.86,251.76 414.39,261.94 419.92,269.15 425.44,237.33 430.97,275.65 436.5,289.94 442.03,264.62 447.56,239.46 453.08,263.63 458.61,255.15 464.14,266.6 469.67,267.45 475.19,234.65 480.72,260.95 486.25,277.35 491.78,266.6 497.31,250.2 502.83,266.04 508.36,257.84 513.89,269.15 519.42,253.74 524.94,250.2" fill="none" stroke="#0000ff" stroke-width="1.1" stroke-linejoin="round"/>
<polygon points="44.03,253.11 46.23,255.86 44.03,258.61 41.83,255.86" fill="none" stroke="#0000ff" stroke-width="1.15" stroke-linejoin="round"/>
<polygon points="49.56,260.6 51.76,263.35 49.56,266.1 47.36,263.35" fill="none" stroke="#0000ff" stroke-width="1.15" stroke-linejoin="round"/>
<polygon points="55.08,247.45 57.28,250.2 55.08,252.95 52.88,250.2" fill="none" stroke="#0000ff" stroke-width="1.15" stroke-linejoin="round"/>
<polygon points="60.61,251.98 62.81,254.73 60.61,257.48 58.41,254.73" fill="none" stroke="#0000ff" stroke-width="1.15" stroke-linejoin="round"/>
<polygon points="66.14,267.39 68.34,270.14 66.14,272.89 63.94,270.14" fill="none" stroke="#0000ff" stroke-width="1.15" stroke-linejoin="round"/>
<polygon points="71.67,250 73.87,252.75 71.67,255.5 69.47,252.75" fill="none" stroke="#0000ff" stroke-width="1.15" stroke-linejoin="round"/>
<polygon points="77.19,274.18 79.39,276.93 77.19,279.68 74.99,276.93" fill="none" stroke="#0000ff" stroke-width="1.15" stroke-linejoin="round"/>
<polygon points="82.72,253.67 84.92,256.42 82.72,259.17 80.52,256.42" fill="none" stroke="#0000ff" stroke-width="1.15" stroke-linejoin="round"/>
<polygon points="88.25,280.68 90.45,283.43 88.25,286.18 86.05,283.43" fill="none" stroke="#0000ff" stroke-width="1.15" stroke-linejoin="round"/>
<polygon points="93.78,228.5 95.98,231.25 93.78,234 91.58,231.25" fill="none" stroke="#0000ff" stroke-width="1.15" stroke-linejoin="round"/>
<polygon points="99.31,292.56 101.51,295.31 99.31,298.06 97.11,295.31" fill="none" stroke="#0000ff" stroke-width="1.15" stroke-linejoin="round"/>
<polygon points="104.83,224.4 107.03,227.15 104.83,229.9 102.63,227.15" fill="none" stroke="#0000ff" stroke-width="1.15" stroke-linejoin="round"/>
<polygon points="110.36,263.85 112.56,266.6 110.36,269.35 108.16,266.6" fill="none" stroke="#0000ff" stroke-width="1.15" stroke-linejoin="round"/>
<polygon points="115.89,243.49 118.09,246.24 115.89,248.99 113.69,246.24" fill="none" stroke="#0000ff" stroke-width="1.15" stroke-linejoin="round"/>
<polygon points="121.42,258.48 123.62,261.23 121.42,263.98 119.22,261.23" fill="none" stroke="#0000ff" stroke-width="1.15" stroke-linejoin="round"/>
<polygon points="126.94,269.37 129.14,272.12 126.94,274.87 124.74,272.12" fill="none" stroke="#0000ff" stroke-width="1.15" stroke-linejoin="round"/>
<polygon points="132.47,274.6 134.67,277.35 132.47,280.1 130.27,277.35" fill="none" stroke="#0000ff" stroke-width="1.15" stroke-linejoin="round"/>
<polygon points="138,270.5 140.2,273.25 138,276 135.8,273.25" fill="none" stroke="#0000ff" stroke-width="1.15" stroke-linejoin="round"/>
<polygon points="143.53,244.91 145.73,247.66 143.53,250.41 141.33,247.66" fill="none" stroke="#0000ff" stroke-width="1.15" stroke-linejoin="round"/>
<polygon points="149.06,268.8 151.26,271.55 149.06,274.3 146.86,271.55" fill="none" stroke="#0000ff" stroke-width="1.15" stroke-linejoin="round"/>
<polygon points="154.58,258.62 156.78,261.37 154.58,264.12 152.38,261.37" fill="none" stroke="#0000ff" stroke-width="1.15" stroke-linejoin="round"/>
<polygon points="160.11,263.85 162.31,266.6 160.11,269.35 157.91,266.6" fill="none" stroke="#0000ff" stroke-width="1.15" stroke-linejoin="round"/>
<polygon points="165.64,283.79 167.84,286.54 165.64,289.29 163.44,286.54" fill="none" stroke="#0000ff" stroke-width="1.15" stroke-linejoin="round"/>
<polygon points="171.17,255.09 173.37,257.84 171.17,260.59 168.97,257.84" fill="none" stroke="#0000ff" stroke-width="1.15" stroke-linejoin="round"/>
<polygon points="176.69,252.4 178.89,255.15 176.69,257.9 174.49,255.15" fill="none" stroke="#0000ff" stroke-width="1.15" stroke-linejoin="round"/>
<polygon points="182.22,224.4 184.42,227.15 182.22,229.9 180.02,227.15" fill="none" stroke="#0000ff" stroke-width="1.15" stroke-linejoin="round"/>
<polygon points="187.75,254.1 189.95,256.85 187.75,259.6 185.55,256.85" fill="none" stroke="#0000ff" stroke-width="1.15" stroke-linejoin="round"/>
<polygon points="193.28,269.37 195.48,272.12 193.28,274.87 191.08,272.12" fill="none" stroke="#0000ff" stroke-width="1.15" stroke-linejoin="round"/>
<polygon points="198.81,222.28 201.01,225.03 198.81,227.78 196.61,225.03" fill="none" stroke="#0000ff" stroke-width="1.15" stroke-linejoin="round"/>
<polygon points="204.33,233.17 206.53,235.92 204.33,238.67 202.13,235.92" fill="none" stroke="#0000ff" stroke-width="1.15" stroke-linejoin="round"/>
<polygon points="209.86,255.09 212.06,257.84 209.86,260.59 207.66,257.84" fill="none" stroke="#0000ff" stroke-width="1.15" stroke-linejoin="round"/>
<polygon points="215.39,239.39 217.59,242.14 215.39,244.89 213.19,242.14" fill="none" stroke="#0000ff" stroke-width="1.15" stroke-linejoin="round"/>
<polygon points="220.92,243.78 223.12,246.53 220.92,249.28 218.72,246.53" fill="none" stroke="#0000ff" stroke-width="1.15" stroke-linejoin="round"/>
<polygon points="226.44,253.67 228.64,256.42 226.44,259.17 224.24,256.42" fill="none" stroke="#0000ff" stroke-width="1.15" stroke-linejoin="round"/>
<polygon points="231.97,255.09 234.17,257.84 231.97,260.59 229.77,257.84" fill="none" stroke="#0000ff" stroke-width="1.15" stroke-linejoin="round"/>
<polygon points="237.5,240.1 239.7,242.85 237.5,245.6 235.3,242.85" fill="none" stroke="#0000ff" stroke-width="1.15" stroke-linejoin="round"/>
<polygon points="243.03,264.7 245.23,267.45 243.03,270.2 240.83,267.45" fill="none" stroke="#0000ff" stroke-width="1.15" stroke-linejoin="round"/>
<polygon points="248.56,251.55 250.76,254.3 248.56,257.05 246.36,254.3" fill="none" stroke="#0000ff" stroke-width="1.15" stroke-linejoin="round"/>
<polygon points="254.08,239.68 256.28,242.43 254.08,245.18 251.88,242.43" fill="none" stroke="#0000ff" stroke-width="1.15" stroke-linejoin="round"/>
<polygon points="259.61,255.09 261.81,257.84 259.61,260.59 257.41,257.84" fill="none" stroke="#0000ff" stroke-width="1.15" stroke-linejoin="round"/>
<polygon points="265.14,278.7 267.34,281.45 265.14,284.2 262.94,281.45" fill="none" stroke="#0000ff" stroke-width="1.15" stroke-linejoin="round"/>
<polygon points="270.67,241.37 272.87,244.12 270.67,246.87 268.47,244.12" fill="none" stroke="#0000ff" stroke-width="1.15" stroke-linejoin="round"/>
<polygon points="276.19,247.88 278.39,250.63 276.19,253.38 273.99,250.63" fill="none" stroke="#0000ff" stroke-width="1.15" stroke-linejoin="round"/>
<polygon points="281.72,241.8 283.92,244.55 281.72,247.3 279.52,244.55" fill="none" stroke="#0000ff" stroke-width="1.15" stroke-linejoin="round"/>
<polygon points="287.25,246.89 289.45,249.64 287.25,252.39 285.05,249.64" fill="none" stroke="#0000ff" stroke-width="1.15" stroke-linejoin="round"/>
<polygon points="292.78,260.6 294.98,263.35 292.78,266.1 290.58,263.35" fill="none" stroke="#0000ff" stroke-width="1.15" stroke-linejoin="round"/>
<polygon points="298.31,257.21 300.51,259.96 298.31,262.71 296.11,259.96" fill="none" stroke="#0000ff" stroke-width="1.15" stroke-linejoin="round"/>
<polygon points="303.83,263.29 306.03,266.04 303.83,268.79 301.63,266.04" fill="none" stroke="#0000ff" stroke-width="1.15" stroke-linejoin="round"/>
<polygon points="309.36,240.81 311.56,243.56 309.36,246.31 307.16,243.56" fill="none" stroke="#0000ff" stroke-width="1.15" stroke-linejoin="round"/>
<polygon points="314.89,257.21 317.09,259.96 314.89,262.71 312.69,259.96" fill="none" stroke="#0000ff" stroke-width="1.15" stroke-linejoin="round"/>
<polygon points="320.42,258.62 322.62,261.37 320.42,264.12 318.22,261.37" fill="none" stroke="#0000ff" stroke-width="1.15" stroke-linejoin="round"/>
<polygon points="325.94,250.42 328.14,253.17 325.94,255.92 323.74,253.17" fill="none" stroke="#0000ff" stroke-width="1.15" stroke-linejoin="round"/>
<polygon points="331.47,251.98 333.67,254.73 331.47,257.48 329.27,254.73" fill="none" stroke="#0000ff" stroke-width="1.15" stroke-linejoin="round"/>
<polygon points="337,280.68 339.2,283.43 337,286.18 334.8,283.43" fill="none" stroke="#0000ff" stroke-width="1.15" stroke-linejoin="round"/>
<polygon points="342.53,259.75 344.73,262.5 342.53,265.25 340.33,262.5" fill="none" stroke="#0000ff" stroke-width="1.15" stroke-linejoin="round"/>
<polygon points="348.06,255.65 350.26,258.4 348.06,261.15 345.86,258.4" fill="none" stroke="#0000ff" stroke-width="1.15" stroke-linejoin="round"/>
<polygon points="353.58,257.21 355.78,259.96 353.58,262.71 351.38,259.96" fill="none" stroke="#0000ff" stroke-width="1.15" stroke-linejoin="round"/>
<polygon points="359.11,239.39 361.31,242.14 359.11,244.89 356.91,242.14" fill="none" stroke="#0000ff" stroke-width="1.15" stroke-linejoin="round"/>
<polygon points="364.64,264.7 366.84,267.45 364.64,270.2 362.44,267.45" fill="none" stroke="#0000ff" stroke-width="1.15" stroke-linejoin="round"/>
<polygon points="370.17,250.99 372.37,253.74 370.17,256.49 367.97,253.74" fill="none" stroke="#0000ff" stroke-width="1.15" stroke-linejoin="round"/>
<polygon points="375.69,268.8 377.89,271.55 375.69,274.3 373.49,271.55" fill="none" stroke="#0000ff" stroke-width="1.15" stroke-linejoin="round"/>
<polygon points="381.22,268.8 383.42,271.55 381.22,274.3 379.02,271.55" fill="none" stroke="#0000ff" stroke-width="1.15" stroke-linejoin="round"/>
<polygon points="386.75,248.3 388.95,251.05 386.75,253.8 384.55,251.05" fill="none" stroke="#0000ff" stroke-width="1.15" stroke-linejoin="round"/>
<polygon points="392.28,257.21 394.48,259.96 392.28,262.71 390.08,259.96" fill="none" stroke="#0000ff" stroke-width="1.15" stroke-linejoin="round"/>
<polygon points="397.81,255.65 400.01,258.4 397.81,261.15 395.61,258.4" fill="none" stroke="#0000ff" stroke-width="1.15" stroke-linejoin="round"/>
<polygon points="403.33,256.08 405.53,258.83 403.33,261.58 401.13,258.83" fill="none" stroke="#0000ff" stroke-width="1.15" stroke-linejoin="round"/>
<polygon points="408.86,249.01 411.06,251.76 408.86,254.51 406.66,251.76" fill="none" stroke="#0000ff" stroke-width="1.15" stroke-linejoin="round"/>
<polygon points="414.39,259.19 416.59,261.94 414.39,264.69 412.19,261.94" fill="none" stroke="#0000ff" stroke-width="1.15" stroke-linejoin="round"/>
<polygon points="419.92,266.4 422.12,269.15 419.92,271.9 417.72,269.15" fill="none" stroke="#0000ff" stroke-width="1.15" stroke-linejoin="round"/>
<polygon points="425.44,234.58 427.64,237.33 425.44,240.08 423.24,237.33" fill="none" stroke="#0000ff" stroke-width="1.15" stroke-linejoin="round"/>
<polygon points="430.97,272.9 433.17,275.65 430.97,278.4 428.77,275.65" fill="none" stroke="#0000ff" stroke-width="1.15" stroke-linejoin="round"/>
<polygon points="436.5,287.19 438.7,289.94 436.5,292.69 434.3,289.94" fill="none" stroke="#0000ff" stroke-width="1.15" stroke-linejoin="round"/>
<polygon points="442.03,261.87 444.23,264.62 442.03,267.37 439.83,264.62" fill="none" stroke="#0000ff" stroke-width="1.15" stroke-linejoin="round"/>
<polygon points="447.56,236.71 449.76,239.46 447.56,242.21 445.36,239.46" fill="none" stroke="#0000ff" stroke-width="1.15" stroke-linejoin="round"/>
<polygon points="453.08,260.88 455.28,263.63 453.08,266.38 450.88,263.63" fill="none" stroke="#0000ff" stroke-width="1.15" stroke-linejoin="round"/>
<polygon points="458.61,252.4 460.81,255.15 458.61,257.9 456.41,255.15" fill="none" stroke="#0000ff" stroke-width="1.15" stroke-linejoin="round"/>
<polygon points="464.14,263.85 466.34,266.6 464.14,269.35 461.94,266.6" fill="none" stroke="#0000ff" stroke-width="1.15" stroke-linejoin="round"/>
<polygon points="469.67,264.7 471.87,267.45 469.67,270.2 467.47,267.45" fill="none" stroke="#0000ff" stroke-width="1.15" stroke-linejoin="round"/>
<polygon points="475.19,231.9 477.39,234.65 475.19,237.4 472.99,234.65" fill="none" stroke="#0000ff" stroke-width="1.15" stroke-linejoin="round"/>
<polygon points="480.72,258.2 482.92,260.95 480.72,263.7 478.52,260.95" fill="none" stroke="#0000ff" stroke-width="1.15" stroke-linejoin="round"/>
<polygon points="486.25,274.6 488.45,277.35 486.25,280.1 484.05,277.35" fill="none" stroke="#0000ff" stroke-width="1.15" stroke-linejoin="round"/>
<polygon points="491.78,263.85 493.98,266.6 491.78,269.35 489.58,266.6" fill="none" stroke="#0000ff" stroke-width="1.15" stroke-linejoin="round"/>
<polygon points="497.31,247.45 499.51,250.2 497.31,252.95 495.11,250.2" fill="none" stroke="#0000ff" stroke-width="1.15" stroke-linejoin="round"/>
<polygon points="502.83,263.29 505.03,266.04 502.83,268.79 500.63,266.04" fill="none" stroke="#0000ff" stroke-width="1.15" stroke-linejoin="round"/>
<polygon points="508.36,255.09 510.56,257.84 508.36,260.59 506.16,257.84" fill="none" stroke="#0000ff" stroke-width="1.15" stroke-linejoin="round"/>
<polygon points="513.89,266.4 516.09,269.15 513.89,271.9 511.69,269.15" fill="none" stroke="#0000ff" stroke-width="1.15" stroke-linejoin="round"/>
<polygon points="519.42,250.99 521.62,253.74 519.42,256.49 517.22,253.74" fill="none" stroke="#0000ff" stroke-width="1.15" stroke-linejoin="round"/>
<polygon points="524.94,247.45 527.14,250.2 524.94,252.95 522.74,250.2" fill="none" stroke="#0000ff" stroke-width="1.15" stroke-linejoin="round"/>
<rect x="214.5" y="291.8" width="307" height="24.2" fill="#ffffff" stroke="#262626" stroke-width="1"/>
<line x1="223" y1="303.5" x2="268" y2="303.5" stroke="#ff0000" stroke-width="1" />
<circle cx="246.2" cy="303.5" r="2.15" fill="none" stroke="#ff0000" stroke-width="1.35"/>
<text x="272.2" y="308.6" text-anchor="start" font-size="13.3" fill="#262626" stroke="#262626" stroke-width="0.15" >POLY</text>
<line x1="317" y1="303.5" x2="361" y2="303.5" stroke="#ffcc00" stroke-width="1" />
<polygon points="338.8,300.9 341.15,305.2 336.45,305.2" fill="none" stroke="#ffcc00" stroke-width="1.2" stroke-linejoin="round"/>
<text x="365.9" y="308.6" text-anchor="start" font-size="13.3" fill="#262626" stroke="#262626" stroke-width="0.15" >BPNN-P</text>
<line x1="425" y1="303.5" x2="469" y2="303.5" stroke="#0000ff" stroke-width="1" />
<polygon points="446.8,300.75 449,303.5 446.8,306.25 444.6,303.5" fill="none" stroke="#0000ff" stroke-width="1.15" stroke-linejoin="round"/>
<text x="473.3" y="308.6" text-anchor="start" font-size="13.3" fill="#262626" stroke="#262626" stroke-width="0.15" >SVM-P</text>
<text x="38.5" y="350.9" text-anchor="middle" font-size="13.3" fill="#262626" stroke="#262626" stroke-width="0.15" >0</text>
<text x="93.78" y="350.9" text-anchor="middle" font-size="13.3" fill="#262626" stroke="#262626" stroke-width="0.15" >10</text>
<text x="149.06" y="350.9" text-anchor="middle" font-size="13.3" fill="#262626" stroke="#262626" stroke-width="0.15" >20</text>
<text x="204.33" y="350.9" text-anchor="middle" font-size="13.3" fill="#262626" stroke="#262626" stroke-width="0.15" >30</text>
<text x="259.61" y="350.9" text-anchor="middle" font-size="13.3" fill="#262626" stroke="#262626" stroke-width="0.15" >40</text>
<text x="314.89" y="350.9" text-anchor="middle" font-size="13.3" fill="#262626" stroke="#262626" stroke-width="0.15" >50</text>
<text x="370.17" y="350.9" text-anchor="middle" font-size="13.3" fill="#262626" stroke="#262626" stroke-width="0.15" >60</text>
<text x="425.44" y="350.9" text-anchor="middle" font-size="13.3" fill="#262626" stroke="#262626" stroke-width="0.15" >70</text>
<text x="480.72" y="350.9" text-anchor="middle" font-size="13.3" fill="#262626" stroke="#262626" stroke-width="0.15" >80</text>
<text x="536" y="350.9" text-anchor="middle" font-size="13.3" fill="#262626" stroke="#262626" stroke-width="0.15" >90</text>
<text x="32" y="335.8" text-anchor="end" font-size="13.3" fill="#262626" stroke="#262626" stroke-width="0.15" >-5</text>
<text x="32" y="300.45" text-anchor="end" font-size="13.3" fill="#262626" stroke="#262626" stroke-width="0.15" >-2.5</text>
<text x="32" y="265.1" text-anchor="end" font-size="13.3" fill="#262626" stroke="#262626" stroke-width="0.15" >0</text>
<text x="32" y="229.75" text-anchor="end" font-size="13.3" fill="#262626" stroke="#262626" stroke-width="0.15" >2.5</text>
<text x="32" y="194.4" text-anchor="end" font-size="13.3" fill="#262626" stroke="#262626" stroke-width="0.15" >5</text>
<text x="287.7" y="369.1" text-anchor="middle" font-size="14" fill="#262626" stroke="#262626" stroke-width="0.15" >(b)</text>
<text x="290" y="387.1" text-anchor="middle" font-size="13.8" fill="#262626" stroke="#262626" stroke-width="0.15" >IPP</text>
<text x="0" y="0" text-anchor="middle" font-size="13.3" fill="#262626" stroke="#262626" stroke-width="0.25" transform="translate(14.4 161.2) rotate(-90)">Error/TECU</text>
</svg>
</body></html>
